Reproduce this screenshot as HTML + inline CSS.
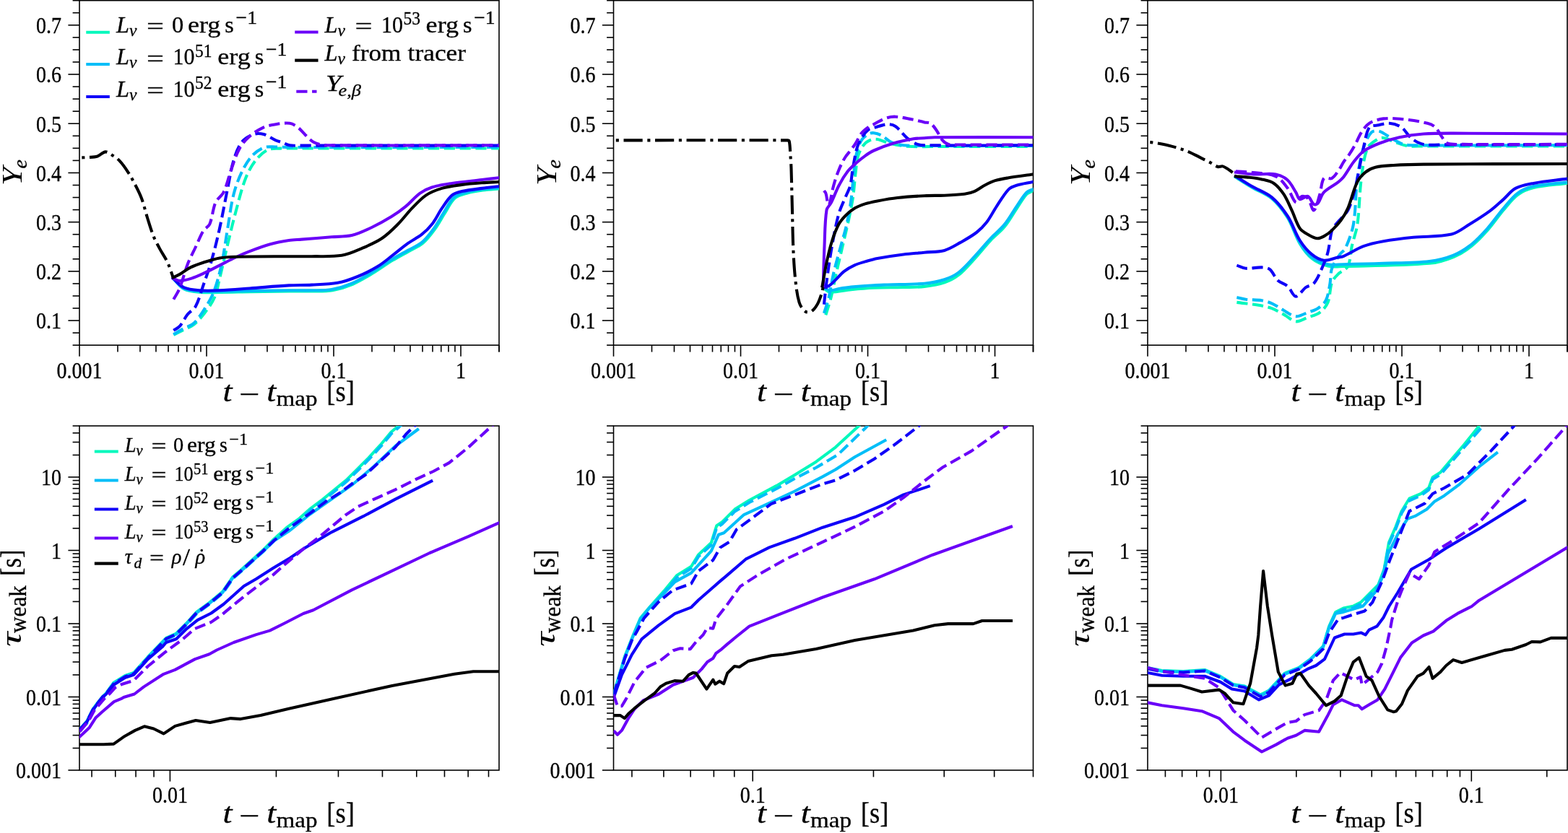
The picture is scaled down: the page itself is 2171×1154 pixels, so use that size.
<!DOCTYPE html>
<html><head><meta charset="utf-8"><style>
html,body{margin:0;padding:0;background:#fff;}
svg{display:block;}
text{font-family:"Liberation Serif", "DejaVu Serif", serif;fill:#000;stroke:#000;stroke-width:0.3px;}
</style></head><body>
<svg width="2171" height="1154" viewBox="0 0 2171 1154">
<rect width="2171" height="1154" fill="#fff"/>
<rect x="110.00" y="0.69" width="581.00" height="477.51" fill="none" stroke="#000" stroke-width="1.6"/>
<line x1="100.60" y1="478.20" x2="110.00" y2="478.20" stroke="#000" stroke-width="1.6"/>
<line x1="100.60" y1="461.15" x2="110.00" y2="461.15" stroke="#000" stroke-width="1.6"/>
<line x1="94.40" y1="444.09" x2="110.00" y2="444.09" stroke="#000" stroke-width="1.6"/>
<text transform="translate(85.00,455.49) scale(1.02,1.13)" font-size="27.5" text-anchor="end" >0.1</text>
<line x1="100.60" y1="427.04" x2="110.00" y2="427.04" stroke="#000" stroke-width="1.6"/>
<line x1="100.60" y1="409.98" x2="110.00" y2="409.98" stroke="#000" stroke-width="1.6"/>
<line x1="100.60" y1="392.93" x2="110.00" y2="392.93" stroke="#000" stroke-width="1.6"/>
<line x1="94.40" y1="375.88" x2="110.00" y2="375.88" stroke="#000" stroke-width="1.6"/>
<text transform="translate(85.00,387.28) scale(1.02,1.13)" font-size="27.5" text-anchor="end" >0.2</text>
<line x1="100.60" y1="358.82" x2="110.00" y2="358.82" stroke="#000" stroke-width="1.6"/>
<line x1="100.60" y1="341.77" x2="110.00" y2="341.77" stroke="#000" stroke-width="1.6"/>
<line x1="100.60" y1="324.71" x2="110.00" y2="324.71" stroke="#000" stroke-width="1.6"/>
<line x1="94.40" y1="307.66" x2="110.00" y2="307.66" stroke="#000" stroke-width="1.6"/>
<text transform="translate(85.00,319.06) scale(1.02,1.13)" font-size="27.5" text-anchor="end" >0.3</text>
<line x1="100.60" y1="290.61" x2="110.00" y2="290.61" stroke="#000" stroke-width="1.6"/>
<line x1="100.60" y1="273.55" x2="110.00" y2="273.55" stroke="#000" stroke-width="1.6"/>
<line x1="100.60" y1="256.50" x2="110.00" y2="256.50" stroke="#000" stroke-width="1.6"/>
<line x1="94.40" y1="239.44" x2="110.00" y2="239.44" stroke="#000" stroke-width="1.6"/>
<text transform="translate(85.00,250.84) scale(1.02,1.13)" font-size="27.5" text-anchor="end" >0.4</text>
<line x1="100.60" y1="222.39" x2="110.00" y2="222.39" stroke="#000" stroke-width="1.6"/>
<line x1="100.60" y1="205.34" x2="110.00" y2="205.34" stroke="#000" stroke-width="1.6"/>
<line x1="100.60" y1="188.28" x2="110.00" y2="188.28" stroke="#000" stroke-width="1.6"/>
<line x1="94.40" y1="171.23" x2="110.00" y2="171.23" stroke="#000" stroke-width="1.6"/>
<text transform="translate(85.00,182.63) scale(1.02,1.13)" font-size="27.5" text-anchor="end" >0.5</text>
<line x1="100.60" y1="154.18" x2="110.00" y2="154.18" stroke="#000" stroke-width="1.6"/>
<line x1="100.60" y1="137.12" x2="110.00" y2="137.12" stroke="#000" stroke-width="1.6"/>
<line x1="100.60" y1="120.07" x2="110.00" y2="120.07" stroke="#000" stroke-width="1.6"/>
<line x1="94.40" y1="103.01" x2="110.00" y2="103.01" stroke="#000" stroke-width="1.6"/>
<text transform="translate(85.00,114.41) scale(1.02,1.13)" font-size="27.5" text-anchor="end" >0.6</text>
<line x1="100.60" y1="85.96" x2="110.00" y2="85.96" stroke="#000" stroke-width="1.6"/>
<line x1="100.60" y1="68.91" x2="110.00" y2="68.91" stroke="#000" stroke-width="1.6"/>
<line x1="100.60" y1="51.85" x2="110.00" y2="51.85" stroke="#000" stroke-width="1.6"/>
<line x1="94.40" y1="34.80" x2="110.00" y2="34.80" stroke="#000" stroke-width="1.6"/>
<text transform="translate(85.00,46.20) scale(1.02,1.13)" font-size="27.5" text-anchor="end" >0.7</text>
<line x1="100.60" y1="17.74" x2="110.00" y2="17.74" stroke="#000" stroke-width="1.6"/>
<line x1="100.60" y1="0.69" x2="110.00" y2="0.69" stroke="#000" stroke-width="1.6"/>
<line x1="110.00" y1="478.20" x2="110.00" y2="493.80" stroke="#000" stroke-width="1.6"/>
<text transform="translate(110.00,523.50) scale(1.02,1.13)" font-size="27.5" text-anchor="middle" >0.001</text>
<line x1="162.98" y1="478.20" x2="162.98" y2="487.60" stroke="#000" stroke-width="1.6"/>
<line x1="193.98" y1="478.20" x2="193.98" y2="487.60" stroke="#000" stroke-width="1.6"/>
<line x1="215.97" y1="478.20" x2="215.97" y2="487.60" stroke="#000" stroke-width="1.6"/>
<line x1="233.02" y1="478.20" x2="233.02" y2="487.60" stroke="#000" stroke-width="1.6"/>
<line x1="246.96" y1="478.20" x2="246.96" y2="487.60" stroke="#000" stroke-width="1.6"/>
<line x1="258.74" y1="478.20" x2="258.74" y2="487.60" stroke="#000" stroke-width="1.6"/>
<line x1="268.95" y1="478.20" x2="268.95" y2="487.60" stroke="#000" stroke-width="1.6"/>
<line x1="277.95" y1="478.20" x2="277.95" y2="487.60" stroke="#000" stroke-width="1.6"/>
<line x1="286.01" y1="478.20" x2="286.01" y2="493.80" stroke="#000" stroke-width="1.6"/>
<text transform="translate(286.01,523.50) scale(1.02,1.13)" font-size="27.5" text-anchor="middle" >0.01</text>
<line x1="338.99" y1="478.20" x2="338.99" y2="487.60" stroke="#000" stroke-width="1.6"/>
<line x1="369.98" y1="478.20" x2="369.98" y2="487.60" stroke="#000" stroke-width="1.6"/>
<line x1="391.97" y1="478.20" x2="391.97" y2="487.60" stroke="#000" stroke-width="1.6"/>
<line x1="409.03" y1="478.20" x2="409.03" y2="487.60" stroke="#000" stroke-width="1.6"/>
<line x1="422.96" y1="478.20" x2="422.96" y2="487.60" stroke="#000" stroke-width="1.6"/>
<line x1="434.75" y1="478.20" x2="434.75" y2="487.60" stroke="#000" stroke-width="1.6"/>
<line x1="444.95" y1="478.20" x2="444.95" y2="487.60" stroke="#000" stroke-width="1.6"/>
<line x1="453.96" y1="478.20" x2="453.96" y2="487.60" stroke="#000" stroke-width="1.6"/>
<line x1="462.01" y1="478.20" x2="462.01" y2="493.80" stroke="#000" stroke-width="1.6"/>
<text transform="translate(462.01,523.50) scale(1.02,1.13)" font-size="27.5" text-anchor="middle" >0.1</text>
<line x1="514.99" y1="478.20" x2="514.99" y2="487.60" stroke="#000" stroke-width="1.6"/>
<line x1="545.99" y1="478.20" x2="545.99" y2="487.60" stroke="#000" stroke-width="1.6"/>
<line x1="567.98" y1="478.20" x2="567.98" y2="487.60" stroke="#000" stroke-width="1.6"/>
<line x1="585.03" y1="478.20" x2="585.03" y2="487.60" stroke="#000" stroke-width="1.6"/>
<line x1="598.97" y1="478.20" x2="598.97" y2="487.60" stroke="#000" stroke-width="1.6"/>
<line x1="610.75" y1="478.20" x2="610.75" y2="487.60" stroke="#000" stroke-width="1.6"/>
<line x1="620.96" y1="478.20" x2="620.96" y2="487.60" stroke="#000" stroke-width="1.6"/>
<line x1="629.96" y1="478.20" x2="629.96" y2="487.60" stroke="#000" stroke-width="1.6"/>
<line x1="638.02" y1="478.20" x2="638.02" y2="493.80" stroke="#000" stroke-width="1.6"/>
<text transform="translate(638.02,523.50) scale(1.02,1.13)" font-size="27.5" text-anchor="middle" >1</text>
<line x1="691.00" y1="478.20" x2="691.00" y2="487.60" stroke="#000" stroke-width="1.6"/>
<line x1="691.00" y1="478.20" x2="691.00" y2="487.60" stroke="#000" stroke-width="1.6"/>
<rect x="849.50" y="0.69" width="581.00" height="477.51" fill="none" stroke="#000" stroke-width="1.6"/>
<line x1="840.10" y1="478.20" x2="849.50" y2="478.20" stroke="#000" stroke-width="1.6"/>
<line x1="840.10" y1="461.15" x2="849.50" y2="461.15" stroke="#000" stroke-width="1.6"/>
<line x1="833.90" y1="444.09" x2="849.50" y2="444.09" stroke="#000" stroke-width="1.6"/>
<text transform="translate(824.50,455.49) scale(1.02,1.13)" font-size="27.5" text-anchor="end" >0.1</text>
<line x1="840.10" y1="427.04" x2="849.50" y2="427.04" stroke="#000" stroke-width="1.6"/>
<line x1="840.10" y1="409.98" x2="849.50" y2="409.98" stroke="#000" stroke-width="1.6"/>
<line x1="840.10" y1="392.93" x2="849.50" y2="392.93" stroke="#000" stroke-width="1.6"/>
<line x1="833.90" y1="375.88" x2="849.50" y2="375.88" stroke="#000" stroke-width="1.6"/>
<text transform="translate(824.50,387.28) scale(1.02,1.13)" font-size="27.5" text-anchor="end" >0.2</text>
<line x1="840.10" y1="358.82" x2="849.50" y2="358.82" stroke="#000" stroke-width="1.6"/>
<line x1="840.10" y1="341.77" x2="849.50" y2="341.77" stroke="#000" stroke-width="1.6"/>
<line x1="840.10" y1="324.71" x2="849.50" y2="324.71" stroke="#000" stroke-width="1.6"/>
<line x1="833.90" y1="307.66" x2="849.50" y2="307.66" stroke="#000" stroke-width="1.6"/>
<text transform="translate(824.50,319.06) scale(1.02,1.13)" font-size="27.5" text-anchor="end" >0.3</text>
<line x1="840.10" y1="290.61" x2="849.50" y2="290.61" stroke="#000" stroke-width="1.6"/>
<line x1="840.10" y1="273.55" x2="849.50" y2="273.55" stroke="#000" stroke-width="1.6"/>
<line x1="840.10" y1="256.50" x2="849.50" y2="256.50" stroke="#000" stroke-width="1.6"/>
<line x1="833.90" y1="239.44" x2="849.50" y2="239.44" stroke="#000" stroke-width="1.6"/>
<text transform="translate(824.50,250.84) scale(1.02,1.13)" font-size="27.5" text-anchor="end" >0.4</text>
<line x1="840.10" y1="222.39" x2="849.50" y2="222.39" stroke="#000" stroke-width="1.6"/>
<line x1="840.10" y1="205.34" x2="849.50" y2="205.34" stroke="#000" stroke-width="1.6"/>
<line x1="840.10" y1="188.28" x2="849.50" y2="188.28" stroke="#000" stroke-width="1.6"/>
<line x1="833.90" y1="171.23" x2="849.50" y2="171.23" stroke="#000" stroke-width="1.6"/>
<text transform="translate(824.50,182.63) scale(1.02,1.13)" font-size="27.5" text-anchor="end" >0.5</text>
<line x1="840.10" y1="154.18" x2="849.50" y2="154.18" stroke="#000" stroke-width="1.6"/>
<line x1="840.10" y1="137.12" x2="849.50" y2="137.12" stroke="#000" stroke-width="1.6"/>
<line x1="840.10" y1="120.07" x2="849.50" y2="120.07" stroke="#000" stroke-width="1.6"/>
<line x1="833.90" y1="103.01" x2="849.50" y2="103.01" stroke="#000" stroke-width="1.6"/>
<text transform="translate(824.50,114.41) scale(1.02,1.13)" font-size="27.5" text-anchor="end" >0.6</text>
<line x1="840.10" y1="85.96" x2="849.50" y2="85.96" stroke="#000" stroke-width="1.6"/>
<line x1="840.10" y1="68.91" x2="849.50" y2="68.91" stroke="#000" stroke-width="1.6"/>
<line x1="840.10" y1="51.85" x2="849.50" y2="51.85" stroke="#000" stroke-width="1.6"/>
<line x1="833.90" y1="34.80" x2="849.50" y2="34.80" stroke="#000" stroke-width="1.6"/>
<text transform="translate(824.50,46.20) scale(1.02,1.13)" font-size="27.5" text-anchor="end" >0.7</text>
<line x1="840.10" y1="17.74" x2="849.50" y2="17.74" stroke="#000" stroke-width="1.6"/>
<line x1="840.10" y1="0.69" x2="849.50" y2="0.69" stroke="#000" stroke-width="1.6"/>
<line x1="849.50" y1="478.20" x2="849.50" y2="493.80" stroke="#000" stroke-width="1.6"/>
<text transform="translate(849.50,523.50) scale(1.02,1.13)" font-size="27.5" text-anchor="middle" >0.001</text>
<line x1="902.48" y1="478.20" x2="902.48" y2="487.60" stroke="#000" stroke-width="1.6"/>
<line x1="933.48" y1="478.20" x2="933.48" y2="487.60" stroke="#000" stroke-width="1.6"/>
<line x1="955.47" y1="478.20" x2="955.47" y2="487.60" stroke="#000" stroke-width="1.6"/>
<line x1="972.52" y1="478.20" x2="972.52" y2="487.60" stroke="#000" stroke-width="1.6"/>
<line x1="986.46" y1="478.20" x2="986.46" y2="487.60" stroke="#000" stroke-width="1.6"/>
<line x1="998.24" y1="478.20" x2="998.24" y2="487.60" stroke="#000" stroke-width="1.6"/>
<line x1="1008.45" y1="478.20" x2="1008.45" y2="487.60" stroke="#000" stroke-width="1.6"/>
<line x1="1017.45" y1="478.20" x2="1017.45" y2="487.60" stroke="#000" stroke-width="1.6"/>
<line x1="1025.51" y1="478.20" x2="1025.51" y2="493.80" stroke="#000" stroke-width="1.6"/>
<text transform="translate(1025.51,523.50) scale(1.02,1.13)" font-size="27.5" text-anchor="middle" >0.01</text>
<line x1="1078.49" y1="478.20" x2="1078.49" y2="487.60" stroke="#000" stroke-width="1.6"/>
<line x1="1109.48" y1="478.20" x2="1109.48" y2="487.60" stroke="#000" stroke-width="1.6"/>
<line x1="1131.47" y1="478.20" x2="1131.47" y2="487.60" stroke="#000" stroke-width="1.6"/>
<line x1="1148.53" y1="478.20" x2="1148.53" y2="487.60" stroke="#000" stroke-width="1.6"/>
<line x1="1162.46" y1="478.20" x2="1162.46" y2="487.60" stroke="#000" stroke-width="1.6"/>
<line x1="1174.25" y1="478.20" x2="1174.25" y2="487.60" stroke="#000" stroke-width="1.6"/>
<line x1="1184.45" y1="478.20" x2="1184.45" y2="487.60" stroke="#000" stroke-width="1.6"/>
<line x1="1193.46" y1="478.20" x2="1193.46" y2="487.60" stroke="#000" stroke-width="1.6"/>
<line x1="1201.51" y1="478.20" x2="1201.51" y2="493.80" stroke="#000" stroke-width="1.6"/>
<text transform="translate(1201.51,523.50) scale(1.02,1.13)" font-size="27.5" text-anchor="middle" >0.1</text>
<line x1="1254.49" y1="478.20" x2="1254.49" y2="487.60" stroke="#000" stroke-width="1.6"/>
<line x1="1285.49" y1="478.20" x2="1285.49" y2="487.60" stroke="#000" stroke-width="1.6"/>
<line x1="1307.48" y1="478.20" x2="1307.48" y2="487.60" stroke="#000" stroke-width="1.6"/>
<line x1="1324.53" y1="478.20" x2="1324.53" y2="487.60" stroke="#000" stroke-width="1.6"/>
<line x1="1338.47" y1="478.20" x2="1338.47" y2="487.60" stroke="#000" stroke-width="1.6"/>
<line x1="1350.25" y1="478.20" x2="1350.25" y2="487.60" stroke="#000" stroke-width="1.6"/>
<line x1="1360.46" y1="478.20" x2="1360.46" y2="487.60" stroke="#000" stroke-width="1.6"/>
<line x1="1369.46" y1="478.20" x2="1369.46" y2="487.60" stroke="#000" stroke-width="1.6"/>
<line x1="1377.52" y1="478.20" x2="1377.52" y2="493.80" stroke="#000" stroke-width="1.6"/>
<text transform="translate(1377.52,523.50) scale(1.02,1.13)" font-size="27.5" text-anchor="middle" >1</text>
<line x1="1430.50" y1="478.20" x2="1430.50" y2="487.60" stroke="#000" stroke-width="1.6"/>
<line x1="1430.50" y1="478.20" x2="1430.50" y2="487.60" stroke="#000" stroke-width="1.6"/>
<rect x="1589.00" y="0.69" width="581.00" height="477.51" fill="none" stroke="#000" stroke-width="1.6"/>
<line x1="1579.60" y1="478.20" x2="1589.00" y2="478.20" stroke="#000" stroke-width="1.6"/>
<line x1="1579.60" y1="461.15" x2="1589.00" y2="461.15" stroke="#000" stroke-width="1.6"/>
<line x1="1573.40" y1="444.09" x2="1589.00" y2="444.09" stroke="#000" stroke-width="1.6"/>
<text transform="translate(1564.00,455.49) scale(1.02,1.13)" font-size="27.5" text-anchor="end" >0.1</text>
<line x1="1579.60" y1="427.04" x2="1589.00" y2="427.04" stroke="#000" stroke-width="1.6"/>
<line x1="1579.60" y1="409.98" x2="1589.00" y2="409.98" stroke="#000" stroke-width="1.6"/>
<line x1="1579.60" y1="392.93" x2="1589.00" y2="392.93" stroke="#000" stroke-width="1.6"/>
<line x1="1573.40" y1="375.88" x2="1589.00" y2="375.88" stroke="#000" stroke-width="1.6"/>
<text transform="translate(1564.00,387.28) scale(1.02,1.13)" font-size="27.5" text-anchor="end" >0.2</text>
<line x1="1579.60" y1="358.82" x2="1589.00" y2="358.82" stroke="#000" stroke-width="1.6"/>
<line x1="1579.60" y1="341.77" x2="1589.00" y2="341.77" stroke="#000" stroke-width="1.6"/>
<line x1="1579.60" y1="324.71" x2="1589.00" y2="324.71" stroke="#000" stroke-width="1.6"/>
<line x1="1573.40" y1="307.66" x2="1589.00" y2="307.66" stroke="#000" stroke-width="1.6"/>
<text transform="translate(1564.00,319.06) scale(1.02,1.13)" font-size="27.5" text-anchor="end" >0.3</text>
<line x1="1579.60" y1="290.61" x2="1589.00" y2="290.61" stroke="#000" stroke-width="1.6"/>
<line x1="1579.60" y1="273.55" x2="1589.00" y2="273.55" stroke="#000" stroke-width="1.6"/>
<line x1="1579.60" y1="256.50" x2="1589.00" y2="256.50" stroke="#000" stroke-width="1.6"/>
<line x1="1573.40" y1="239.44" x2="1589.00" y2="239.44" stroke="#000" stroke-width="1.6"/>
<text transform="translate(1564.00,250.84) scale(1.02,1.13)" font-size="27.5" text-anchor="end" >0.4</text>
<line x1="1579.60" y1="222.39" x2="1589.00" y2="222.39" stroke="#000" stroke-width="1.6"/>
<line x1="1579.60" y1="205.34" x2="1589.00" y2="205.34" stroke="#000" stroke-width="1.6"/>
<line x1="1579.60" y1="188.28" x2="1589.00" y2="188.28" stroke="#000" stroke-width="1.6"/>
<line x1="1573.40" y1="171.23" x2="1589.00" y2="171.23" stroke="#000" stroke-width="1.6"/>
<text transform="translate(1564.00,182.63) scale(1.02,1.13)" font-size="27.5" text-anchor="end" >0.5</text>
<line x1="1579.60" y1="154.18" x2="1589.00" y2="154.18" stroke="#000" stroke-width="1.6"/>
<line x1="1579.60" y1="137.12" x2="1589.00" y2="137.12" stroke="#000" stroke-width="1.6"/>
<line x1="1579.60" y1="120.07" x2="1589.00" y2="120.07" stroke="#000" stroke-width="1.6"/>
<line x1="1573.40" y1="103.01" x2="1589.00" y2="103.01" stroke="#000" stroke-width="1.6"/>
<text transform="translate(1564.00,114.41) scale(1.02,1.13)" font-size="27.5" text-anchor="end" >0.6</text>
<line x1="1579.60" y1="85.96" x2="1589.00" y2="85.96" stroke="#000" stroke-width="1.6"/>
<line x1="1579.60" y1="68.91" x2="1589.00" y2="68.91" stroke="#000" stroke-width="1.6"/>
<line x1="1579.60" y1="51.85" x2="1589.00" y2="51.85" stroke="#000" stroke-width="1.6"/>
<line x1="1573.40" y1="34.80" x2="1589.00" y2="34.80" stroke="#000" stroke-width="1.6"/>
<text transform="translate(1564.00,46.20) scale(1.02,1.13)" font-size="27.5" text-anchor="end" >0.7</text>
<line x1="1579.60" y1="17.74" x2="1589.00" y2="17.74" stroke="#000" stroke-width="1.6"/>
<line x1="1579.60" y1="0.69" x2="1589.00" y2="0.69" stroke="#000" stroke-width="1.6"/>
<line x1="1589.00" y1="478.20" x2="1589.00" y2="493.80" stroke="#000" stroke-width="1.6"/>
<text transform="translate(1589.00,523.50) scale(1.02,1.13)" font-size="27.5" text-anchor="middle" >0.001</text>
<line x1="1641.98" y1="478.20" x2="1641.98" y2="487.60" stroke="#000" stroke-width="1.6"/>
<line x1="1672.98" y1="478.20" x2="1672.98" y2="487.60" stroke="#000" stroke-width="1.6"/>
<line x1="1694.97" y1="478.20" x2="1694.97" y2="487.60" stroke="#000" stroke-width="1.6"/>
<line x1="1712.02" y1="478.20" x2="1712.02" y2="487.60" stroke="#000" stroke-width="1.6"/>
<line x1="1725.96" y1="478.20" x2="1725.96" y2="487.60" stroke="#000" stroke-width="1.6"/>
<line x1="1737.74" y1="478.20" x2="1737.74" y2="487.60" stroke="#000" stroke-width="1.6"/>
<line x1="1747.95" y1="478.20" x2="1747.95" y2="487.60" stroke="#000" stroke-width="1.6"/>
<line x1="1756.95" y1="478.20" x2="1756.95" y2="487.60" stroke="#000" stroke-width="1.6"/>
<line x1="1765.01" y1="478.20" x2="1765.01" y2="493.80" stroke="#000" stroke-width="1.6"/>
<text transform="translate(1765.01,523.50) scale(1.02,1.13)" font-size="27.5" text-anchor="middle" >0.01</text>
<line x1="1817.99" y1="478.20" x2="1817.99" y2="487.60" stroke="#000" stroke-width="1.6"/>
<line x1="1848.98" y1="478.20" x2="1848.98" y2="487.60" stroke="#000" stroke-width="1.6"/>
<line x1="1870.97" y1="478.20" x2="1870.97" y2="487.60" stroke="#000" stroke-width="1.6"/>
<line x1="1888.03" y1="478.20" x2="1888.03" y2="487.60" stroke="#000" stroke-width="1.6"/>
<line x1="1901.96" y1="478.20" x2="1901.96" y2="487.60" stroke="#000" stroke-width="1.6"/>
<line x1="1913.75" y1="478.20" x2="1913.75" y2="487.60" stroke="#000" stroke-width="1.6"/>
<line x1="1923.95" y1="478.20" x2="1923.95" y2="487.60" stroke="#000" stroke-width="1.6"/>
<line x1="1932.96" y1="478.20" x2="1932.96" y2="487.60" stroke="#000" stroke-width="1.6"/>
<line x1="1941.01" y1="478.20" x2="1941.01" y2="493.80" stroke="#000" stroke-width="1.6"/>
<text transform="translate(1941.01,523.50) scale(1.02,1.13)" font-size="27.5" text-anchor="middle" >0.1</text>
<line x1="1993.99" y1="478.20" x2="1993.99" y2="487.60" stroke="#000" stroke-width="1.6"/>
<line x1="2024.99" y1="478.20" x2="2024.99" y2="487.60" stroke="#000" stroke-width="1.6"/>
<line x1="2046.98" y1="478.20" x2="2046.98" y2="487.60" stroke="#000" stroke-width="1.6"/>
<line x1="2064.03" y1="478.20" x2="2064.03" y2="487.60" stroke="#000" stroke-width="1.6"/>
<line x1="2077.97" y1="478.20" x2="2077.97" y2="487.60" stroke="#000" stroke-width="1.6"/>
<line x1="2089.75" y1="478.20" x2="2089.75" y2="487.60" stroke="#000" stroke-width="1.6"/>
<line x1="2099.96" y1="478.20" x2="2099.96" y2="487.60" stroke="#000" stroke-width="1.6"/>
<line x1="2108.96" y1="478.20" x2="2108.96" y2="487.60" stroke="#000" stroke-width="1.6"/>
<line x1="2117.02" y1="478.20" x2="2117.02" y2="493.80" stroke="#000" stroke-width="1.6"/>
<text transform="translate(2117.02,523.50) scale(1.02,1.13)" font-size="27.5" text-anchor="middle" >1</text>
<line x1="2170.00" y1="478.20" x2="2170.00" y2="487.60" stroke="#000" stroke-width="1.6"/>
<line x1="2170.00" y1="478.20" x2="2170.00" y2="487.60" stroke="#000" stroke-width="1.6"/>
<rect x="110.00" y="590.00" width="581.00" height="477.00" fill="none" stroke="#000" stroke-width="1.6"/>
<line x1="94.40" y1="1067.00" x2="110.00" y2="1067.00" stroke="#000" stroke-width="1.6"/>
<text transform="translate(85.00,1078.40) scale(1.02,1.13)" font-size="27.5" text-anchor="end" >0.001</text>
<line x1="100.60" y1="1036.44" x2="110.00" y2="1036.44" stroke="#000" stroke-width="1.6"/>
<line x1="100.60" y1="1018.57" x2="110.00" y2="1018.57" stroke="#000" stroke-width="1.6"/>
<line x1="100.60" y1="1005.88" x2="110.00" y2="1005.88" stroke="#000" stroke-width="1.6"/>
<line x1="100.60" y1="996.05" x2="110.00" y2="996.05" stroke="#000" stroke-width="1.6"/>
<line x1="100.60" y1="988.01" x2="110.00" y2="988.01" stroke="#000" stroke-width="1.6"/>
<line x1="100.60" y1="981.21" x2="110.00" y2="981.21" stroke="#000" stroke-width="1.6"/>
<line x1="100.60" y1="975.33" x2="110.00" y2="975.33" stroke="#000" stroke-width="1.6"/>
<line x1="100.60" y1="970.13" x2="110.00" y2="970.13" stroke="#000" stroke-width="1.6"/>
<line x1="94.40" y1="965.49" x2="110.00" y2="965.49" stroke="#000" stroke-width="1.6"/>
<text transform="translate(85.00,976.89) scale(1.02,1.13)" font-size="27.5" text-anchor="end" >0.01</text>
<line x1="100.60" y1="934.93" x2="110.00" y2="934.93" stroke="#000" stroke-width="1.6"/>
<line x1="100.60" y1="917.06" x2="110.00" y2="917.06" stroke="#000" stroke-width="1.6"/>
<line x1="100.60" y1="904.37" x2="110.00" y2="904.37" stroke="#000" stroke-width="1.6"/>
<line x1="100.60" y1="894.53" x2="110.00" y2="894.53" stroke="#000" stroke-width="1.6"/>
<line x1="100.60" y1="886.50" x2="110.00" y2="886.50" stroke="#000" stroke-width="1.6"/>
<line x1="100.60" y1="879.70" x2="110.00" y2="879.70" stroke="#000" stroke-width="1.6"/>
<line x1="100.60" y1="873.81" x2="110.00" y2="873.81" stroke="#000" stroke-width="1.6"/>
<line x1="100.60" y1="868.62" x2="110.00" y2="868.62" stroke="#000" stroke-width="1.6"/>
<line x1="94.40" y1="863.98" x2="110.00" y2="863.98" stroke="#000" stroke-width="1.6"/>
<text transform="translate(85.00,875.38) scale(1.02,1.13)" font-size="27.5" text-anchor="end" >0.1</text>
<line x1="100.60" y1="833.42" x2="110.00" y2="833.42" stroke="#000" stroke-width="1.6"/>
<line x1="100.60" y1="815.54" x2="110.00" y2="815.54" stroke="#000" stroke-width="1.6"/>
<line x1="100.60" y1="802.86" x2="110.00" y2="802.86" stroke="#000" stroke-width="1.6"/>
<line x1="100.60" y1="793.02" x2="110.00" y2="793.02" stroke="#000" stroke-width="1.6"/>
<line x1="100.60" y1="784.99" x2="110.00" y2="784.99" stroke="#000" stroke-width="1.6"/>
<line x1="100.60" y1="778.19" x2="110.00" y2="778.19" stroke="#000" stroke-width="1.6"/>
<line x1="100.60" y1="772.30" x2="110.00" y2="772.30" stroke="#000" stroke-width="1.6"/>
<line x1="100.60" y1="767.11" x2="110.00" y2="767.11" stroke="#000" stroke-width="1.6"/>
<line x1="94.40" y1="762.47" x2="110.00" y2="762.47" stroke="#000" stroke-width="1.6"/>
<text transform="translate(85.00,773.87) scale(1.02,1.13)" font-size="27.5" text-anchor="end" >1</text>
<line x1="100.60" y1="731.91" x2="110.00" y2="731.91" stroke="#000" stroke-width="1.6"/>
<line x1="100.60" y1="714.03" x2="110.00" y2="714.03" stroke="#000" stroke-width="1.6"/>
<line x1="100.60" y1="701.35" x2="110.00" y2="701.35" stroke="#000" stroke-width="1.6"/>
<line x1="100.60" y1="691.51" x2="110.00" y2="691.51" stroke="#000" stroke-width="1.6"/>
<line x1="100.60" y1="683.47" x2="110.00" y2="683.47" stroke="#000" stroke-width="1.6"/>
<line x1="100.60" y1="676.68" x2="110.00" y2="676.68" stroke="#000" stroke-width="1.6"/>
<line x1="100.60" y1="670.79" x2="110.00" y2="670.79" stroke="#000" stroke-width="1.6"/>
<line x1="100.60" y1="665.60" x2="110.00" y2="665.60" stroke="#000" stroke-width="1.6"/>
<line x1="94.40" y1="660.95" x2="110.00" y2="660.95" stroke="#000" stroke-width="1.6"/>
<text transform="translate(85.00,672.35) scale(1.02,1.13)" font-size="27.5" text-anchor="end" >10</text>
<line x1="100.60" y1="630.40" x2="110.00" y2="630.40" stroke="#000" stroke-width="1.6"/>
<line x1="100.60" y1="612.52" x2="110.00" y2="612.52" stroke="#000" stroke-width="1.6"/>
<line x1="100.60" y1="599.84" x2="110.00" y2="599.84" stroke="#000" stroke-width="1.6"/>
<line x1="100.60" y1="590.00" x2="110.00" y2="590.00" stroke="#000" stroke-width="1.6"/>
<line x1="127.05" y1="1067.00" x2="127.05" y2="1076.40" stroke="#000" stroke-width="1.6"/>
<line x1="159.75" y1="1067.00" x2="159.75" y2="1076.40" stroke="#000" stroke-width="1.6"/>
<line x1="188.07" y1="1067.00" x2="188.07" y2="1076.40" stroke="#000" stroke-width="1.6"/>
<line x1="213.06" y1="1067.00" x2="213.06" y2="1076.40" stroke="#000" stroke-width="1.6"/>
<line x1="235.41" y1="1067.00" x2="235.41" y2="1082.60" stroke="#000" stroke-width="1.6"/>
<text transform="translate(235.41,1112.30) scale(1.02,1.13)" font-size="27.5" text-anchor="middle" >0.01</text>
<line x1="382.43" y1="1067.00" x2="382.43" y2="1076.40" stroke="#000" stroke-width="1.6"/>
<line x1="468.44" y1="1067.00" x2="468.44" y2="1076.40" stroke="#000" stroke-width="1.6"/>
<line x1="529.46" y1="1067.00" x2="529.46" y2="1076.40" stroke="#000" stroke-width="1.6"/>
<line x1="576.79" y1="1067.00" x2="576.79" y2="1076.40" stroke="#000" stroke-width="1.6"/>
<line x1="615.47" y1="1067.00" x2="615.47" y2="1076.40" stroke="#000" stroke-width="1.6"/>
<line x1="648.16" y1="1067.00" x2="648.16" y2="1076.40" stroke="#000" stroke-width="1.6"/>
<line x1="676.49" y1="1067.00" x2="676.49" y2="1076.40" stroke="#000" stroke-width="1.6"/>
<rect x="849.50" y="590.00" width="581.00" height="477.00" fill="none" stroke="#000" stroke-width="1.6"/>
<line x1="833.90" y1="1067.00" x2="849.50" y2="1067.00" stroke="#000" stroke-width="1.6"/>
<text transform="translate(824.50,1078.40) scale(1.02,1.13)" font-size="27.5" text-anchor="end" >0.001</text>
<line x1="840.10" y1="1036.44" x2="849.50" y2="1036.44" stroke="#000" stroke-width="1.6"/>
<line x1="840.10" y1="1018.57" x2="849.50" y2="1018.57" stroke="#000" stroke-width="1.6"/>
<line x1="840.10" y1="1005.88" x2="849.50" y2="1005.88" stroke="#000" stroke-width="1.6"/>
<line x1="840.10" y1="996.05" x2="849.50" y2="996.05" stroke="#000" stroke-width="1.6"/>
<line x1="840.10" y1="988.01" x2="849.50" y2="988.01" stroke="#000" stroke-width="1.6"/>
<line x1="840.10" y1="981.21" x2="849.50" y2="981.21" stroke="#000" stroke-width="1.6"/>
<line x1="840.10" y1="975.33" x2="849.50" y2="975.33" stroke="#000" stroke-width="1.6"/>
<line x1="840.10" y1="970.13" x2="849.50" y2="970.13" stroke="#000" stroke-width="1.6"/>
<line x1="833.90" y1="965.49" x2="849.50" y2="965.49" stroke="#000" stroke-width="1.6"/>
<text transform="translate(824.50,976.89) scale(1.02,1.13)" font-size="27.5" text-anchor="end" >0.01</text>
<line x1="840.10" y1="934.93" x2="849.50" y2="934.93" stroke="#000" stroke-width="1.6"/>
<line x1="840.10" y1="917.06" x2="849.50" y2="917.06" stroke="#000" stroke-width="1.6"/>
<line x1="840.10" y1="904.37" x2="849.50" y2="904.37" stroke="#000" stroke-width="1.6"/>
<line x1="840.10" y1="894.53" x2="849.50" y2="894.53" stroke="#000" stroke-width="1.6"/>
<line x1="840.10" y1="886.50" x2="849.50" y2="886.50" stroke="#000" stroke-width="1.6"/>
<line x1="840.10" y1="879.70" x2="849.50" y2="879.70" stroke="#000" stroke-width="1.6"/>
<line x1="840.10" y1="873.81" x2="849.50" y2="873.81" stroke="#000" stroke-width="1.6"/>
<line x1="840.10" y1="868.62" x2="849.50" y2="868.62" stroke="#000" stroke-width="1.6"/>
<line x1="833.90" y1="863.98" x2="849.50" y2="863.98" stroke="#000" stroke-width="1.6"/>
<text transform="translate(824.50,875.38) scale(1.02,1.13)" font-size="27.5" text-anchor="end" >0.1</text>
<line x1="840.10" y1="833.42" x2="849.50" y2="833.42" stroke="#000" stroke-width="1.6"/>
<line x1="840.10" y1="815.54" x2="849.50" y2="815.54" stroke="#000" stroke-width="1.6"/>
<line x1="840.10" y1="802.86" x2="849.50" y2="802.86" stroke="#000" stroke-width="1.6"/>
<line x1="840.10" y1="793.02" x2="849.50" y2="793.02" stroke="#000" stroke-width="1.6"/>
<line x1="840.10" y1="784.99" x2="849.50" y2="784.99" stroke="#000" stroke-width="1.6"/>
<line x1="840.10" y1="778.19" x2="849.50" y2="778.19" stroke="#000" stroke-width="1.6"/>
<line x1="840.10" y1="772.30" x2="849.50" y2="772.30" stroke="#000" stroke-width="1.6"/>
<line x1="840.10" y1="767.11" x2="849.50" y2="767.11" stroke="#000" stroke-width="1.6"/>
<line x1="833.90" y1="762.47" x2="849.50" y2="762.47" stroke="#000" stroke-width="1.6"/>
<text transform="translate(824.50,773.87) scale(1.02,1.13)" font-size="27.5" text-anchor="end" >1</text>
<line x1="840.10" y1="731.91" x2="849.50" y2="731.91" stroke="#000" stroke-width="1.6"/>
<line x1="840.10" y1="714.03" x2="849.50" y2="714.03" stroke="#000" stroke-width="1.6"/>
<line x1="840.10" y1="701.35" x2="849.50" y2="701.35" stroke="#000" stroke-width="1.6"/>
<line x1="840.10" y1="691.51" x2="849.50" y2="691.51" stroke="#000" stroke-width="1.6"/>
<line x1="840.10" y1="683.47" x2="849.50" y2="683.47" stroke="#000" stroke-width="1.6"/>
<line x1="840.10" y1="676.68" x2="849.50" y2="676.68" stroke="#000" stroke-width="1.6"/>
<line x1="840.10" y1="670.79" x2="849.50" y2="670.79" stroke="#000" stroke-width="1.6"/>
<line x1="840.10" y1="665.60" x2="849.50" y2="665.60" stroke="#000" stroke-width="1.6"/>
<line x1="833.90" y1="660.95" x2="849.50" y2="660.95" stroke="#000" stroke-width="1.6"/>
<text transform="translate(824.50,672.35) scale(1.02,1.13)" font-size="27.5" text-anchor="end" >10</text>
<line x1="840.10" y1="630.40" x2="849.50" y2="630.40" stroke="#000" stroke-width="1.6"/>
<line x1="840.10" y1="612.52" x2="849.50" y2="612.52" stroke="#000" stroke-width="1.6"/>
<line x1="840.10" y1="599.84" x2="849.50" y2="599.84" stroke="#000" stroke-width="1.6"/>
<line x1="840.10" y1="590.00" x2="849.50" y2="590.00" stroke="#000" stroke-width="1.6"/>
<line x1="874.92" y1="1067.00" x2="874.92" y2="1076.40" stroke="#000" stroke-width="1.6"/>
<line x1="918.91" y1="1067.00" x2="918.91" y2="1076.40" stroke="#000" stroke-width="1.6"/>
<line x1="956.11" y1="1067.00" x2="956.11" y2="1076.40" stroke="#000" stroke-width="1.6"/>
<line x1="988.33" y1="1067.00" x2="988.33" y2="1076.40" stroke="#000" stroke-width="1.6"/>
<line x1="1016.75" y1="1067.00" x2="1016.75" y2="1076.40" stroke="#000" stroke-width="1.6"/>
<line x1="1042.17" y1="1067.00" x2="1042.17" y2="1082.60" stroke="#000" stroke-width="1.6"/>
<text transform="translate(1042.17,1112.30) scale(1.02,1.13)" font-size="27.5" text-anchor="middle" >0.1</text>
<line x1="1209.41" y1="1067.00" x2="1209.41" y2="1076.40" stroke="#000" stroke-width="1.6"/>
<line x1="1307.25" y1="1067.00" x2="1307.25" y2="1076.40" stroke="#000" stroke-width="1.6"/>
<line x1="1376.66" y1="1067.00" x2="1376.66" y2="1076.40" stroke="#000" stroke-width="1.6"/>
<line x1="1430.50" y1="1067.00" x2="1430.50" y2="1076.40" stroke="#000" stroke-width="1.6"/>
<rect x="1589.00" y="590.00" width="581.00" height="477.00" fill="none" stroke="#000" stroke-width="1.6"/>
<line x1="1573.40" y1="1067.00" x2="1589.00" y2="1067.00" stroke="#000" stroke-width="1.6"/>
<text transform="translate(1564.00,1078.40) scale(1.02,1.13)" font-size="27.5" text-anchor="end" >0.001</text>
<line x1="1579.60" y1="1036.44" x2="1589.00" y2="1036.44" stroke="#000" stroke-width="1.6"/>
<line x1="1579.60" y1="1018.57" x2="1589.00" y2="1018.57" stroke="#000" stroke-width="1.6"/>
<line x1="1579.60" y1="1005.88" x2="1589.00" y2="1005.88" stroke="#000" stroke-width="1.6"/>
<line x1="1579.60" y1="996.05" x2="1589.00" y2="996.05" stroke="#000" stroke-width="1.6"/>
<line x1="1579.60" y1="988.01" x2="1589.00" y2="988.01" stroke="#000" stroke-width="1.6"/>
<line x1="1579.60" y1="981.21" x2="1589.00" y2="981.21" stroke="#000" stroke-width="1.6"/>
<line x1="1579.60" y1="975.33" x2="1589.00" y2="975.33" stroke="#000" stroke-width="1.6"/>
<line x1="1579.60" y1="970.13" x2="1589.00" y2="970.13" stroke="#000" stroke-width="1.6"/>
<line x1="1573.40" y1="965.49" x2="1589.00" y2="965.49" stroke="#000" stroke-width="1.6"/>
<text transform="translate(1564.00,976.89) scale(1.02,1.13)" font-size="27.5" text-anchor="end" >0.01</text>
<line x1="1579.60" y1="934.93" x2="1589.00" y2="934.93" stroke="#000" stroke-width="1.6"/>
<line x1="1579.60" y1="917.06" x2="1589.00" y2="917.06" stroke="#000" stroke-width="1.6"/>
<line x1="1579.60" y1="904.37" x2="1589.00" y2="904.37" stroke="#000" stroke-width="1.6"/>
<line x1="1579.60" y1="894.53" x2="1589.00" y2="894.53" stroke="#000" stroke-width="1.6"/>
<line x1="1579.60" y1="886.50" x2="1589.00" y2="886.50" stroke="#000" stroke-width="1.6"/>
<line x1="1579.60" y1="879.70" x2="1589.00" y2="879.70" stroke="#000" stroke-width="1.6"/>
<line x1="1579.60" y1="873.81" x2="1589.00" y2="873.81" stroke="#000" stroke-width="1.6"/>
<line x1="1579.60" y1="868.62" x2="1589.00" y2="868.62" stroke="#000" stroke-width="1.6"/>
<line x1="1573.40" y1="863.98" x2="1589.00" y2="863.98" stroke="#000" stroke-width="1.6"/>
<text transform="translate(1564.00,875.38) scale(1.02,1.13)" font-size="27.5" text-anchor="end" >0.1</text>
<line x1="1579.60" y1="833.42" x2="1589.00" y2="833.42" stroke="#000" stroke-width="1.6"/>
<line x1="1579.60" y1="815.54" x2="1589.00" y2="815.54" stroke="#000" stroke-width="1.6"/>
<line x1="1579.60" y1="802.86" x2="1589.00" y2="802.86" stroke="#000" stroke-width="1.6"/>
<line x1="1579.60" y1="793.02" x2="1589.00" y2="793.02" stroke="#000" stroke-width="1.6"/>
<line x1="1579.60" y1="784.99" x2="1589.00" y2="784.99" stroke="#000" stroke-width="1.6"/>
<line x1="1579.60" y1="778.19" x2="1589.00" y2="778.19" stroke="#000" stroke-width="1.6"/>
<line x1="1579.60" y1="772.30" x2="1589.00" y2="772.30" stroke="#000" stroke-width="1.6"/>
<line x1="1579.60" y1="767.11" x2="1589.00" y2="767.11" stroke="#000" stroke-width="1.6"/>
<line x1="1573.40" y1="762.47" x2="1589.00" y2="762.47" stroke="#000" stroke-width="1.6"/>
<text transform="translate(1564.00,773.87) scale(1.02,1.13)" font-size="27.5" text-anchor="end" >1</text>
<line x1="1579.60" y1="731.91" x2="1589.00" y2="731.91" stroke="#000" stroke-width="1.6"/>
<line x1="1579.60" y1="714.03" x2="1589.00" y2="714.03" stroke="#000" stroke-width="1.6"/>
<line x1="1579.60" y1="701.35" x2="1589.00" y2="701.35" stroke="#000" stroke-width="1.6"/>
<line x1="1579.60" y1="691.51" x2="1589.00" y2="691.51" stroke="#000" stroke-width="1.6"/>
<line x1="1579.60" y1="683.47" x2="1589.00" y2="683.47" stroke="#000" stroke-width="1.6"/>
<line x1="1579.60" y1="676.68" x2="1589.00" y2="676.68" stroke="#000" stroke-width="1.6"/>
<line x1="1579.60" y1="670.79" x2="1589.00" y2="670.79" stroke="#000" stroke-width="1.6"/>
<line x1="1579.60" y1="665.60" x2="1589.00" y2="665.60" stroke="#000" stroke-width="1.6"/>
<line x1="1573.40" y1="660.95" x2="1589.00" y2="660.95" stroke="#000" stroke-width="1.6"/>
<text transform="translate(1564.00,672.35) scale(1.02,1.13)" font-size="27.5" text-anchor="end" >10</text>
<line x1="1579.60" y1="630.40" x2="1589.00" y2="630.40" stroke="#000" stroke-width="1.6"/>
<line x1="1579.60" y1="612.52" x2="1589.00" y2="612.52" stroke="#000" stroke-width="1.6"/>
<line x1="1579.60" y1="599.84" x2="1589.00" y2="599.84" stroke="#000" stroke-width="1.6"/>
<line x1="1579.60" y1="590.00" x2="1589.00" y2="590.00" stroke="#000" stroke-width="1.6"/>
<line x1="1613.44" y1="1067.00" x2="1613.44" y2="1076.40" stroke="#000" stroke-width="1.6"/>
<line x1="1636.66" y1="1067.00" x2="1636.66" y2="1076.40" stroke="#000" stroke-width="1.6"/>
<line x1="1656.78" y1="1067.00" x2="1656.78" y2="1076.40" stroke="#000" stroke-width="1.6"/>
<line x1="1674.53" y1="1067.00" x2="1674.53" y2="1076.40" stroke="#000" stroke-width="1.6"/>
<line x1="1690.40" y1="1067.00" x2="1690.40" y2="1082.60" stroke="#000" stroke-width="1.6"/>
<text transform="translate(1690.40,1112.30) scale(1.02,1.13)" font-size="27.5" text-anchor="middle" >0.01</text>
<line x1="1794.83" y1="1067.00" x2="1794.83" y2="1076.40" stroke="#000" stroke-width="1.6"/>
<line x1="1855.92" y1="1067.00" x2="1855.92" y2="1076.40" stroke="#000" stroke-width="1.6"/>
<line x1="1899.26" y1="1067.00" x2="1899.26" y2="1076.40" stroke="#000" stroke-width="1.6"/>
<line x1="1932.88" y1="1067.00" x2="1932.88" y2="1076.40" stroke="#000" stroke-width="1.6"/>
<line x1="1960.35" y1="1067.00" x2="1960.35" y2="1076.40" stroke="#000" stroke-width="1.6"/>
<line x1="1983.57" y1="1067.00" x2="1983.57" y2="1076.40" stroke="#000" stroke-width="1.6"/>
<line x1="2003.69" y1="1067.00" x2="2003.69" y2="1076.40" stroke="#000" stroke-width="1.6"/>
<line x1="2021.43" y1="1067.00" x2="2021.43" y2="1076.40" stroke="#000" stroke-width="1.6"/>
<line x1="2037.31" y1="1067.00" x2="2037.31" y2="1082.60" stroke="#000" stroke-width="1.6"/>
<text transform="translate(2037.31,1112.30) scale(1.02,1.13)" font-size="27.5" text-anchor="middle" >0.1</text>
<line x1="2141.74" y1="1067.00" x2="2141.74" y2="1076.40" stroke="#000" stroke-width="1.6"/>
<defs>
<clipPath id="ct0"><rect x="110.0" y="0.7" width="581.0" height="477.5"/></clipPath>
<clipPath id="cb0"><rect x="110.0" y="590.0" width="581.0" height="477.0"/></clipPath>
<clipPath id="ct1"><rect x="849.5" y="0.7" width="581.0" height="477.5"/></clipPath>
<clipPath id="cb1"><rect x="849.5" y="590.0" width="581.0" height="477.0"/></clipPath>
<clipPath id="ct2"><rect x="1589.0" y="0.7" width="581.0" height="477.5"/></clipPath>
<clipPath id="cb2"><rect x="1589.0" y="590.0" width="581.0" height="477.0"/></clipPath>
</defs>
<path d="M240.9,386.8 C245.7,391.4 249.6,397.9 255.4,400.7 C261.8,403.9 270.1,404.3 277.5,404.9 C286.7,405.7 296.0,405.0 305.3,404.9 C319.2,404.8 333.0,404.4 346.9,404.2 C365.0,403.9 383.1,403.6 401.2,403.5 C411.7,403.4 422.3,403.7 432.8,403.5 C442.0,403.3 451.5,403.8 460.5,402.2 C470.0,400.5 479.4,397.6 488.3,393.8 C497.9,389.7 507.0,384.0 516.0,378.6 C525.4,372.9 534.3,366.3 543.7,360.6 C550.9,356.2 558.5,352.3 565.9,348.1 C572.4,344.4 579.7,341.7 585.3,337.0 C591.7,331.6 597.0,324.5 602.0,317.6 C607.1,310.6 611.1,302.7 615.8,295.4 C620.3,288.4 623.8,280.0 629.7,274.6 C634.0,270.7 640.6,269.3 646.3,267.7 C653.5,265.6 661.0,264.5 668.5,263.5 C676.3,262.4 684.3,262.0 692.2,261.3" fill="none" stroke="#00F8BC" stroke-width="4.1" stroke-linejoin="round" stroke-linecap="square" clip-path="url(#ct0)"/>
<path d="M240.3,464.0 C244.9,461.7 249.6,459.3 254.2,457.0 C258.8,454.7 264.0,453.2 268.0,450.0 C273.6,445.5 278.6,439.8 283.0,434.0 C288.3,427.1 293.6,419.9 297.0,412.0 C300.6,403.7 301.9,394.4 304.1,385.6 C308.0,369.9 311.4,354.2 315.2,338.5 C318.8,323.7 322.2,308.9 326.2,294.2 C330.5,278.4 334.2,262.2 340.1,247.0 C343.5,238.2 348.3,229.5 354.0,222.1 C358.4,216.4 364.3,210.6 370.6,207.5 C375.4,205.1 381.7,206.0 387.2,205.6 C391.5,205.3 395.7,205.5 400.0,205.5 C497.0,205.5 594.0,205.5 691.0,205.5" fill="none" stroke="#00F8BC" stroke-width="4.1" stroke-linejoin="round" stroke-dasharray="15.2 6.6" stroke-linecap="butt" clip-path="url(#ct0)"/>
<path d="M239.7,385.6 C244.5,390.2 248.4,396.7 254.2,399.5 C260.6,402.7 268.9,403.1 276.3,403.7 C285.5,404.5 294.8,403.8 304.1,403.7 C318.0,403.6 331.8,403.2 345.7,403.0 C363.8,402.7 381.9,402.4 400.0,402.3 C410.5,402.2 421.1,402.5 431.6,402.3 C440.8,402.1 450.3,402.6 459.3,401.0 C468.8,399.3 478.2,396.4 487.1,392.6 C496.7,388.5 505.8,382.8 514.8,377.4 C524.2,371.7 533.1,365.1 542.5,359.4 C549.7,355.0 557.3,351.1 564.7,346.9 C571.2,343.2 578.5,340.5 584.1,335.8 C590.5,330.4 595.8,323.3 600.8,316.4 C605.9,309.4 609.9,301.5 614.6,294.2 C619.1,287.2 622.6,278.8 628.5,273.4 C632.8,269.5 639.4,268.1 645.1,266.5 C652.3,264.4 659.8,263.3 667.3,262.3 C675.1,261.2 683.1,260.8 691.0,260.1" fill="none" stroke="#00BEF8" stroke-width="4.1" stroke-linejoin="round" stroke-linecap="square" clip-path="url(#ct0)"/>
<path d="M240.3,463.3 C244.9,460.5 249.5,457.6 254.2,455.0 C258.7,452.5 264.3,451.4 268.0,448.0 C273.5,443.0 277.8,436.4 281.9,430.0 C287.0,422.0 292.3,413.8 295.7,405.0 C300.6,392.5 303.9,379.3 306.8,366.2 C310.4,349.8 312.3,332.9 315.2,316.3 C317.9,300.6 319.6,284.6 323.5,269.2 C326.1,258.7 330.0,248.4 334.6,238.7 C338.3,230.9 342.7,222.9 348.4,216.5 C352.9,211.5 359.0,206.9 365.1,204.5 C370.1,202.6 376.2,203.6 381.7,203.5 C387.8,203.4 393.9,204.0 400.0,204.0 C497.0,204.2 594.0,204.0 691.0,204.0" fill="none" stroke="#00BEF8" stroke-width="4.1" stroke-linejoin="round" stroke-dasharray="15.2 6.6" stroke-linecap="butt" clip-path="url(#ct0)"/>
<path d="M239.7,385.6 C244.5,389.8 248.6,395.5 254.2,398.1 C260.8,401.1 268.9,401.7 276.3,402.3 C285.5,403.1 294.8,402.7 304.1,402.3 C318.0,401.7 331.8,400.5 345.7,399.5 C363.8,398.2 381.9,396.4 400.0,395.4 C410.5,394.8 421.1,395.2 431.6,394.6 C443.6,394.0 455.8,393.9 467.6,391.8 C477.1,390.1 486.4,386.7 495.4,383.0 C504.9,379.1 514.3,374.5 523.1,369.1 C531.0,364.3 538.0,358.0 545.3,352.4 C551.8,347.4 558.0,342.0 564.7,337.2 C571.0,332.7 578.1,329.5 584.1,324.7 C589.2,320.7 594.0,316.0 598.0,310.8 C603.3,304.0 606.9,295.8 611.8,288.7 C616.1,282.4 620.1,275.4 625.7,270.6 C629.4,267.5 634.8,266.2 639.6,265.1 C648.6,263.0 658.0,262.1 667.3,260.9 C675.2,259.8 683.1,259.1 691.0,258.2" fill="none" stroke="#1000F8" stroke-width="4.1" stroke-linejoin="round" stroke-linecap="square" clip-path="url(#ct0)"/>
<path d="M240.3,457.7 C243.1,455.9 246.4,454.7 248.6,452.2 C252.9,447.3 255.6,440.8 259.7,435.6 C263.0,431.5 268.4,429.0 270.8,424.5 C275.8,415.2 278.3,404.2 281.9,394.0 C285.7,383.0 289.8,371.9 293.0,360.7 C297.2,346.0 300.8,331.2 304.1,316.3 C308.2,297.9 311.4,279.3 315.2,260.9 C317.9,247.9 319.7,234.7 323.5,222.1 C326.1,213.4 329.3,204.1 334.6,197.1 C338.5,192.0 345.2,188.2 351.2,186.0 C355.4,184.5 360.8,184.8 365.1,186.0 C370.9,187.6 376.1,191.9 381.7,194.4 C384.4,195.6 387.3,196.1 390.0,197.1 C393.7,198.4 397.3,200.6 401.1,201.3 C405.6,202.1 410.4,201.6 415.0,201.6 C507.0,201.7 599.0,201.6 691.0,201.6" fill="none" stroke="#1000F8" stroke-width="4.1" stroke-linejoin="round" stroke-dasharray="15.2 6.6" stroke-linecap="butt" clip-path="url(#ct0)"/>
<path d="M239.7,385.6 C242.7,386.7 245.5,389.0 248.6,389.0 C254.1,389.0 259.9,387.3 265.3,385.6 C271.0,383.8 276.5,381.2 281.9,378.7 C289.4,375.2 296.7,371.3 304.1,367.6 C311.5,363.9 318.7,360.0 326.2,356.5 C332.6,353.5 339.1,350.7 345.7,348.2 C354.8,344.7 364.0,341.1 373.4,338.5 C382.1,336.1 391.1,334.4 400.0,333.0 C405.8,332.1 411.8,332.1 417.7,331.6 C431.6,330.5 445.4,329.4 459.3,328.3 C468.6,327.6 478.2,328.2 487.1,326.1 C496.7,323.8 505.8,319.3 514.8,315.0 C524.3,310.5 533.6,305.3 542.5,299.8 C549.3,295.6 555.8,290.9 561.9,285.9 C568.7,280.3 574.2,273.1 581.3,267.9 C586.3,264.3 592.1,261.3 598.0,259.5 C606.9,256.7 616.4,255.4 625.7,254.0 C639.5,251.9 653.4,250.7 667.3,249.0 C675.2,248.1 683.1,247.1 691.0,246.2" fill="none" stroke="#6A00F8" stroke-width="4.1" stroke-linejoin="round" stroke-linecap="square" clip-path="url(#ct0)"/>
<path d="M240.3,414.8 C243.1,409.7 246.5,404.9 248.6,399.5 C252.9,388.7 255.5,377.1 259.7,366.2 C262.8,358.3 266.9,350.7 270.5,343.0 C274.3,335.0 277.4,326.5 281.9,319.1 C283.9,315.8 288.7,314.3 290.2,310.8 C294.2,301.4 294.4,289.8 298.5,280.3 C300.8,275.0 307.1,271.7 309.6,266.4 C314.5,256.0 316.7,244.2 320.7,233.2 C324.1,223.8 327.0,214.0 331.8,205.4 C335.3,199.2 340.3,193.5 345.7,188.8 C351.4,183.8 358.2,179.5 365.1,176.3 C370.2,173.9 376.1,173.1 381.7,172.2 C388.1,171.2 394.9,170.0 401.1,170.8 C405.1,171.3 408.9,173.9 412.2,176.3 C416.3,179.4 419.5,183.8 423.3,187.4 C426.9,190.8 430.3,194.7 434.4,197.1 C437.7,199.0 441.7,199.9 445.5,200.5 C450.2,201.3 455.2,201.3 460.0,201.3 C537.0,201.6 614.0,201.3 691.0,201.3" fill="none" stroke="#6A00F8" stroke-width="4.1" stroke-linejoin="round" stroke-dasharray="15.2 6.6" stroke-linecap="butt" clip-path="url(#ct0)"/>
<path d="M110.0,218.5 C114.0,218.3 118.0,218.3 122.0,218.0 C126.3,217.7 130.9,217.8 135.0,216.5 C138.9,215.3 142.3,210.6 146.0,210.4 C149.2,210.2 152.7,213.3 155.7,215.2 C159.1,217.4 162.6,219.7 165.4,222.6 C169.6,227.0 173.2,232.2 176.5,237.3 C180.6,243.5 184.2,250.1 187.6,256.7 C190.7,262.6 193.7,268.6 196.0,274.8 C199.3,283.8 201.4,293.3 204.3,302.5 C206.9,310.8 209.4,319.3 212.6,327.4 C214.9,333.2 218.0,338.6 220.9,344.1 C224.4,350.7 228.9,356.8 232.0,363.5 C235.1,370.2 237.1,377.4 239.7,384.3" fill="none" stroke="#000000" stroke-width="4.1" stroke-linejoin="round" stroke-dasharray="26.2 6.6 4.1 6.6" stroke-dashoffset="29.5" stroke-linecap="butt" clip-path="url(#ct0)"/>
<path d="M239.7,384.3 C242.7,382.9 245.8,381.7 248.6,380.1 C253.8,377.1 258.5,373.1 263.9,370.4 C269.6,367.5 275.8,365.5 281.9,363.5 C289.2,361.1 296.6,358.7 304.1,357.4 C311.3,356.1 318.8,355.9 326.2,355.7 C350.8,355.1 375.4,355.3 400.0,355.2 C410.5,355.2 421.1,355.4 431.6,355.2 C445.5,354.9 459.7,356.0 473.2,353.8 C482.8,352.3 491.9,347.9 500.9,344.1 C510.4,340.1 520.2,336.0 528.7,330.3 C536.8,324.9 543.9,317.7 550.8,310.8 C557.7,303.9 563.5,295.8 570.3,288.7 C576.4,282.4 582.5,275.5 589.7,270.6 C596.3,266.2 604.1,263.2 611.8,260.9 C620.8,258.3 630.3,257.2 639.6,255.9 C648.8,254.6 658.1,253.9 667.3,253.2 C675.2,252.6 683.1,252.4 691.0,252.0" fill="none" stroke="#000000" stroke-width="4.1" stroke-linejoin="round" stroke-linecap="square" clip-path="url(#ct0)"/>
<path d="M1141.3,400.0 C1144.0,401.6 1146.4,404.7 1149.4,404.8 C1158.8,405.1 1168.8,402.2 1178.5,401.2 C1189.0,400.2 1199.5,399.3 1210.0,398.8 C1223.3,398.2 1236.7,398.4 1250.0,398.0 C1260.0,397.7 1270.1,398.1 1280.0,396.9 C1289.3,395.8 1298.9,394.3 1307.7,391.3 C1314.6,389.0 1321.5,385.5 1327.2,381.0 C1335.4,374.6 1342.2,366.2 1349.3,358.5 C1356.9,350.2 1363.8,341.2 1371.5,333.0 C1377.7,326.4 1385.2,321.0 1390.9,314.0 C1397.2,306.3 1402.0,297.3 1407.6,289.0 C1412.2,282.3 1416.2,274.9 1421.5,269.0 C1423.6,266.7 1427.2,265.9 1430.0,264.3" fill="none" stroke="#00F8BC" stroke-width="4.1" stroke-linejoin="round" stroke-linecap="square" clip-path="url(#ct1)"/>
<path d="M1143.3,436.4 C1145.7,428.3 1148.5,420.3 1150.6,412.1 C1153.4,400.9 1155.4,389.5 1157.9,378.2 C1160.6,366.0 1163.6,353.9 1166.4,341.8 C1169.2,329.7 1172.2,317.6 1174.8,305.5 C1177.0,295.0 1179.3,284.5 1180.9,273.9 C1182.6,262.7 1183.1,251.3 1184.5,240.0 C1185.5,231.9 1186.0,223.6 1188.2,215.8 C1189.7,210.6 1192.3,205.4 1195.5,201.2 C1197.9,198.1 1201.6,195.4 1205.2,193.9 C1208.0,192.7 1211.7,192.5 1214.8,193.0 C1220.5,194.0 1225.8,197.2 1231.5,198.5 C1239.7,200.4 1248.0,202.1 1256.4,202.7 C1267.5,203.6 1278.8,203.0 1290.0,203.0 C1336.7,203.1 1383.3,203.0 1430.0,203.0" fill="none" stroke="#00F8BC" stroke-width="4.1" stroke-linejoin="round" stroke-dasharray="15.2 6.6" stroke-linecap="butt" clip-path="url(#ct1)"/>
<path d="M1140.9,398.8 C1143.7,400.0 1146.5,402.2 1149.4,402.4 C1153.3,402.6 1157.4,400.7 1161.5,400.0 C1167.1,399.1 1172.8,398.2 1178.5,397.6 C1189.0,396.6 1199.5,395.8 1210.0,395.2 C1216.2,394.8 1222.5,394.7 1228.7,394.5 C1245.8,393.9 1263.0,394.3 1280.0,392.7 C1289.3,391.8 1298.8,390.1 1307.7,387.2 C1314.6,385.0 1321.5,381.9 1327.2,377.5 C1335.4,371.2 1342.2,362.9 1349.3,355.3 C1356.9,347.2 1363.9,338.4 1371.5,330.3 C1377.8,323.6 1385.2,318.0 1390.9,310.9 C1397.2,303.2 1401.9,294.2 1407.6,285.9 C1412.1,279.4 1416.2,272.1 1421.5,266.5 C1423.6,264.3 1427.2,263.7 1430.0,262.3" fill="none" stroke="#00BEF8" stroke-width="4.1" stroke-linejoin="round" stroke-linecap="square" clip-path="url(#ct1)"/>
<path d="M1140.9,433.9 C1142.9,427.4 1145.4,421.1 1147.0,414.5 C1149.9,402.5 1151.4,390.2 1154.2,378.2 C1157.0,366.0 1160.6,353.9 1163.9,341.8 C1166.7,331.3 1170.0,320.9 1172.4,310.3 C1174.9,299.1 1176.9,287.8 1178.5,276.4 C1180.2,264.3 1180.7,252.1 1182.1,240.0 C1183.1,231.1 1183.7,222.0 1185.8,213.3 C1187.4,206.6 1189.5,199.6 1193.0,193.9 C1195.2,190.4 1199.1,187.5 1202.7,185.5 C1204.8,184.3 1207.6,183.9 1210.0,184.2 C1213.5,184.6 1217.2,185.8 1220.4,187.5 C1225.3,190.1 1229.2,194.9 1234.2,197.2 C1239.3,199.5 1245.2,200.8 1250.9,201.3 C1263.8,202.4 1277.0,201.9 1290.0,202.0 C1336.7,202.2 1383.3,202.0 1430.0,202.0" fill="none" stroke="#00BEF8" stroke-width="4.1" stroke-linejoin="round" stroke-dasharray="15.2 6.6" stroke-linecap="butt" clip-path="url(#ct1)"/>
<path d="M1140.9,396.4 C1142.9,396.4 1145.3,397.3 1147.0,396.4 C1150.6,394.5 1153.6,390.9 1156.7,387.9 C1160.8,384.0 1164.3,379.3 1168.8,375.8 C1173.2,372.4 1178.2,369.6 1183.3,367.3 C1187.9,365.2 1193.0,363.9 1197.9,362.4 C1203.5,360.8 1209.1,359.1 1214.8,358.0 C1226.8,355.8 1238.8,354.0 1250.9,352.5 C1260.6,351.3 1270.3,350.7 1280.0,349.7 C1289.2,348.8 1298.9,349.3 1307.7,346.9 C1315.5,344.7 1322.7,339.9 1329.9,335.9 C1337.5,331.6 1345.2,327.3 1352.1,322.0 C1357.3,318.0 1362.0,313.3 1366.0,308.1 C1371.3,301.2 1375.1,293.2 1379.9,285.9 C1385.2,277.9 1390.0,269.1 1396.5,262.3 C1399.3,259.4 1403.7,258.0 1407.6,256.8 C1414.8,254.6 1422.5,253.7 1430.0,252.1" fill="none" stroke="#1000F8" stroke-width="4.1" stroke-linejoin="round" stroke-linecap="square" clip-path="url(#ct1)"/>
<path d="M1140.9,421.8 C1142.1,411.3 1143.1,400.8 1144.5,390.3 C1146.7,374.1 1148.9,357.9 1151.8,341.8 C1154.6,326.4 1157.2,310.8 1161.5,295.8 C1164.1,286.6 1168.8,278.0 1172.4,269.1 C1174.0,265.1 1176.3,261.2 1177.3,257.0 C1179.2,249.1 1179.4,240.8 1180.9,232.7 C1182.7,223.0 1184.1,213.0 1187.0,203.6 C1188.6,198.5 1191.3,193.6 1194.2,189.1 C1196.5,185.5 1199.4,181.9 1202.7,179.4 C1204.7,177.9 1207.5,177.7 1210.0,177.0 C1216.2,175.3 1222.5,172.6 1228.7,172.2 C1232.4,172.0 1236.8,172.9 1239.8,175.0 C1246.0,179.3 1250.4,186.7 1256.4,191.6 C1260.5,195.0 1265.3,198.4 1270.3,199.9 C1276.5,201.7 1283.4,201.2 1290.0,201.3 C1336.7,201.7 1383.3,201.3 1430.0,201.3" fill="none" stroke="#1000F8" stroke-width="4.1" stroke-linejoin="round" stroke-dasharray="15.2 6.6" stroke-linecap="butt" clip-path="url(#ct1)"/>
<path d="M1139.7,397.6 C1140.3,378.4 1140.6,359.2 1141.5,340.0 C1142.2,323.6 1142.0,306.8 1144.5,290.9 C1145.1,287.2 1148.9,284.6 1150.6,281.2 C1154.6,273.3 1157.4,264.8 1161.5,257.0 C1165.0,250.3 1169.0,243.6 1173.6,237.6 C1177.1,233.1 1181.5,229.3 1185.8,225.5 C1189.6,222.1 1193.7,218.8 1197.9,215.8 C1201.7,213.1 1205.7,210.4 1210.0,208.5 C1218.7,204.6 1227.8,201.2 1237.0,198.5 C1246.1,195.8 1255.5,193.8 1264.8,192.2 C1269.8,191.4 1274.9,191.6 1280.0,191.3 C1284.6,191.0 1289.3,190.2 1293.9,190.2 C1339.3,189.9 1384.6,190.2 1430.0,190.2" fill="none" stroke="#6A00F8" stroke-width="4.1" stroke-linejoin="round" stroke-linecap="square" clip-path="url(#ct1)"/>
<path d="M1140.9,264.2 C1141.8,265.5 1143.1,266.5 1143.5,268.0 C1145.0,273.1 1145.1,279.3 1146.5,284.0 C1146.7,284.5 1148.0,284.1 1148.2,283.6 C1150.6,275.1 1151.8,265.8 1154.2,257.0 C1156.2,249.6 1158.6,242.3 1161.5,235.2 C1163.9,229.3 1166.7,223.6 1170.0,218.2 C1172.4,214.3 1175.7,211.0 1178.5,207.3 C1180.6,204.5 1182.7,201.7 1184.5,198.8 C1187.5,194.0 1189.6,188.6 1193.0,184.2 C1195.6,180.9 1199.2,178.3 1202.7,175.8 C1204.9,174.2 1207.6,173.3 1210.0,172.1 C1215.3,169.4 1220.3,165.8 1225.9,163.9 C1230.3,162.4 1235.2,161.5 1239.8,161.7 C1247.2,162.0 1254.6,163.9 1262.0,165.3 C1268.0,166.5 1274.0,168.1 1280.0,169.4 C1282.7,170.0 1286.1,169.3 1288.3,170.8 C1291.6,173.0 1294.2,177.0 1296.6,180.5 C1299.7,184.9 1301.5,190.4 1305.0,194.4 C1307.1,196.9 1310.2,199.0 1313.3,199.9 C1316.9,201.0 1321.1,200.5 1325.0,200.5 C1360.0,200.7 1395.0,200.5 1430.0,200.5" fill="none" stroke="#6A00F8" stroke-width="4.1" stroke-linejoin="round" stroke-dasharray="15.2 6.6" stroke-linecap="butt" clip-path="url(#ct1)"/>
<path d="M849.5,194.4 C929.7,194.4 1010.1,193.9 1090.2,194.4 C1091.2,194.4 1092.6,195.1 1092.8,196.0 C1094.0,201.9 1093.9,208.7 1094.4,215.0 C1094.8,221.1 1095.3,227.1 1095.5,233.2 C1096.1,251.7 1096.4,270.2 1096.9,288.7 C1097.4,307.2 1097.5,325.7 1098.3,344.2 C1098.9,358.1 1099.6,372.0 1101.1,385.8 C1102.3,396.9 1103.4,408.5 1106.6,419.0 C1108.0,423.7 1111.4,428.8 1115.0,431.5 C1117.0,433.0 1121.1,432.8 1123.3,431.5 C1126.7,429.5 1129.5,425.4 1131.6,421.8 C1134.1,417.6 1135.6,412.7 1137.2,408.0 C1138.4,404.4 1139.0,400.6 1139.9,396.9" fill="none" stroke="#000000" stroke-width="4.1" stroke-linejoin="round" stroke-dasharray="26.2 6.6 4.1 6.6" stroke-dashoffset="29.5" stroke-linecap="butt" clip-path="url(#ct1)"/>
<path d="M1138.5,396.4 C1140.5,385.5 1142.2,374.5 1144.5,363.6 C1146.6,353.8 1148.8,344.0 1151.8,334.5 C1154.4,326.2 1157.4,317.9 1161.5,310.3 C1163.9,305.8 1167.6,301.8 1171.2,298.2 C1174.8,294.6 1178.9,291.1 1183.3,288.5 C1187.8,285.8 1192.9,284.0 1197.9,282.4 C1203.4,280.6 1209.1,279.5 1214.8,278.4 C1224.0,276.7 1233.3,275.0 1242.6,274.0 C1255.0,272.6 1267.5,271.8 1280.0,271.2 C1289.2,270.7 1298.5,271.1 1307.7,270.7 C1317.0,270.3 1326.3,269.9 1335.5,268.7 C1340.2,268.1 1345.0,267.0 1349.3,265.1 C1354.2,263.0 1358.4,259.3 1363.2,256.8 C1367.7,254.4 1372.3,251.9 1377.1,250.4 C1383.4,248.4 1390.0,247.4 1396.5,246.3 C1407.6,244.4 1418.8,243.1 1430.0,241.5" fill="none" stroke="#000000" stroke-width="4.1" stroke-linejoin="round" stroke-linecap="square" clip-path="url(#ct1)"/>
<path d="M1711.0,245.5 C1718.4,250.2 1725.7,255.0 1733.2,259.5 C1742.3,264.9 1753.0,268.3 1760.9,275.0 C1769.6,282.4 1776.9,292.2 1783.0,302.0 C1789.8,313.0 1793.1,326.3 1799.7,337.5 C1804.2,345.0 1809.6,352.6 1816.3,358.0 C1822.5,363.0 1830.7,366.5 1838.5,368.5 C1845.3,370.2 1852.8,369.2 1860.0,369.0 C1899.7,368.0 1939.8,368.2 1979.2,364.8 C1990.6,363.8 2001.9,360.3 2012.4,356.0 C2021.3,352.4 2029.8,347.0 2037.4,341.0 C2045.5,334.6 2052.7,326.8 2059.6,319.0 C2067.5,310.1 2074.0,300.1 2081.7,291.0 C2087.9,283.7 2093.6,275.6 2101.1,270.0 C2107.5,265.2 2115.5,261.8 2123.3,260.0 C2138.4,256.5 2154.4,255.9 2170.0,253.9" fill="none" stroke="#00F8BC" stroke-width="4.1" stroke-linejoin="round" stroke-linecap="square" clip-path="url(#ct2)"/>
<path d="M1712.4,418.9 C1723.0,420.3 1733.7,421.3 1744.3,423.1 C1749.9,424.1 1755.6,425.2 1760.9,427.2 C1766.7,429.4 1772.1,432.6 1777.5,435.6 C1783.2,438.7 1788.4,444.6 1794.2,445.3 C1799.5,446.0 1805.3,441.8 1810.8,439.7 C1816.4,437.6 1822.8,436.3 1827.4,432.8 C1832.0,429.4 1836.3,424.3 1838.5,418.9 C1841.9,410.4 1841.0,399.9 1844.1,391.2 C1845.6,386.9 1849.2,383.3 1852.4,380.1 C1856.5,375.9 1863.8,374.0 1866.2,369.0 C1870.3,360.6 1869.8,349.6 1872.0,340.0 C1874.2,330.2 1878.0,320.7 1879.4,310.8 C1882.3,289.7 1882.1,268.1 1884.9,247.0 C1886.7,233.0 1888.2,217.9 1893.3,205.4 C1895.6,199.9 1902.1,196.3 1907.1,193.0 C1909.4,191.5 1912.7,190.6 1915.4,191.0 C1921.0,191.9 1926.5,195.2 1932.1,197.1 C1937.6,198.9 1943.0,201.3 1948.7,202.1 C1955.7,203.1 1962.9,202.4 1970.0,202.4 C2036.7,202.5 2103.3,202.4 2170.0,202.4" fill="none" stroke="#00F8BC" stroke-width="4.1" stroke-linejoin="round" stroke-dasharray="15.2 6.6" stroke-linecap="butt" clip-path="url(#ct2)"/>
<path d="M1711.0,245.0 C1718.4,249.7 1725.7,254.5 1733.2,259.0 C1742.3,264.4 1752.9,267.8 1760.9,274.5 C1769.5,281.8 1776.9,291.3 1783.0,301.0 C1789.8,311.8 1793.1,325.0 1799.7,336.0 C1804.2,343.5 1809.6,351.3 1816.3,356.5 C1822.5,361.3 1830.8,364.5 1838.5,366.2 C1845.3,367.7 1852.8,366.3 1860.0,366.2 C1878.5,365.9 1896.9,365.5 1915.4,364.8 C1936.7,364.1 1958.1,364.4 1979.2,362.0 C1990.5,360.7 2001.9,357.9 2012.4,353.7 C2021.3,350.1 2029.8,344.5 2037.4,338.5 C2045.5,332.0 2052.7,324.1 2059.6,316.3 C2067.4,307.5 2074.0,297.6 2081.7,288.6 C2087.9,281.4 2093.6,273.3 2101.1,267.8 C2107.5,263.1 2115.5,259.8 2123.3,258.1 C2138.5,254.7 2154.4,254.4 2170.0,252.5" fill="none" stroke="#00BEF8" stroke-width="4.1" stroke-linejoin="round" stroke-linecap="square" clip-path="url(#ct2)"/>
<path d="M1712.4,412.0 C1716.5,412.9 1720.6,414.3 1724.8,414.8 C1732.1,415.7 1739.7,415.1 1747.0,416.2 C1751.7,416.9 1756.5,418.3 1760.9,420.3 C1766.7,422.9 1771.9,427.0 1777.5,430.0 C1783.0,433.0 1788.5,437.8 1794.2,438.3 C1799.6,438.8 1805.3,434.8 1810.8,432.8 C1815.5,431.1 1820.6,429.9 1824.7,427.2 C1828.9,424.4 1833.5,420.7 1835.7,416.2 C1839.0,409.6 1839.9,401.5 1841.3,394.0 C1842.7,386.7 1841.8,378.7 1844.1,371.8 C1846.4,364.9 1851.1,358.5 1855.2,352.4 C1857.3,349.3 1861.3,347.4 1862.8,344.0 C1867.5,333.5 1871.9,322.2 1873.9,310.8 C1877.5,289.9 1876.6,268.1 1879.4,247.0 C1881.2,233.0 1883.6,218.8 1887.7,205.4 C1890.1,197.6 1893.7,188.7 1898.8,183.3 C1901.1,180.9 1906.5,180.9 1909.9,181.9 C1915.7,183.6 1920.9,188.5 1926.5,191.6 C1931.9,194.5 1937.3,198.2 1943.1,199.9 C1948.4,201.4 1954.3,201.3 1960.0,201.3 C2030.0,201.7 2100.0,201.3 2170.0,201.3" fill="none" stroke="#00BEF8" stroke-width="4.1" stroke-linejoin="round" stroke-dasharray="15.2 6.6" stroke-linecap="butt" clip-path="url(#ct2)"/>
<path d="M1711.0,244.3 C1718.4,248.9 1725.7,253.7 1733.2,258.1 C1742.3,263.4 1752.9,266.8 1760.9,273.4 C1769.5,280.6 1776.8,290.2 1783.0,299.7 C1789.7,310.0 1793.1,322.6 1799.7,333.0 C1804.2,340.1 1809.9,347.1 1816.3,352.4 C1821.0,356.3 1827.2,360.0 1833.0,360.7 C1839.2,361.4 1845.9,357.8 1852.4,356.5 C1854.9,356.0 1857.7,356.1 1860.0,355.1 C1869.4,351.0 1878.1,344.8 1887.7,341.2 C1896.6,337.9 1906.0,336.0 1915.4,334.3 C1929.1,331.8 1943.1,330.2 1957.0,328.8 C1974.5,327.0 1992.9,328.5 2009.7,324.6 C2018.8,322.5 2026.5,315.7 2034.6,310.8 C2044.0,305.1 2053.4,299.2 2062.3,292.7 C2069.1,287.7 2075.3,281.7 2081.7,276.1 C2087.3,271.1 2091.9,264.3 2098.4,260.9 C2105.8,256.9 2114.8,255.5 2123.3,253.9 C2138.7,251.0 2154.4,249.7 2170.0,247.6" fill="none" stroke="#1000F8" stroke-width="4.1" stroke-linejoin="round" stroke-linecap="square" clip-path="url(#ct2)"/>
<path d="M1712.4,367.6 C1716.5,369.0 1720.5,371.5 1724.8,371.8 C1732.1,372.4 1739.7,370.1 1747.0,370.4 C1750.8,370.6 1755.3,370.9 1758.1,373.2 C1762.7,376.9 1764.7,384.2 1769.2,388.4 C1773.0,392.0 1779.0,393.2 1783.0,396.7 C1787.4,400.6 1790.1,410.4 1794.2,410.6 C1798.5,410.8 1803.0,401.7 1808.0,398.1 C1811.3,395.7 1816.6,395.6 1819.1,392.6 C1824.0,386.9 1827.0,378.9 1830.2,371.8 C1833.4,364.6 1836.5,357.2 1838.5,349.6 C1841.1,339.6 1841.3,328.9 1844.1,319.1 C1845.0,316.0 1847.5,313.4 1849.6,310.8 C1854.9,304.2 1861.9,298.6 1866.2,291.4 C1870.0,285.0 1871.8,277.3 1874.0,270.0 C1876.2,262.5 1877.8,254.7 1879.4,247.0 C1882.3,233.2 1884.5,219.2 1887.7,205.4 C1890.0,195.6 1891.3,184.0 1896.0,176.3 C1897.8,173.4 1903.4,174.3 1907.1,173.6 C1912.6,172.5 1918.3,170.4 1923.7,170.8 C1929.4,171.3 1935.7,173.1 1940.4,176.3 C1945.9,180.0 1948.9,187.5 1954.2,191.6 C1959.0,195.3 1964.9,198.8 1970.9,199.9 C1980.2,201.7 1990.3,200.4 2000.0,200.4 C2056.7,200.5 2113.3,200.4 2170.0,200.4" fill="none" stroke="#1000F8" stroke-width="4.1" stroke-linejoin="round" stroke-dasharray="15.2 6.6" stroke-linecap="butt" clip-path="url(#ct2)"/>
<path d="M1711.0,238.7 C1719.3,239.6 1727.6,241.1 1735.9,241.5 C1746.0,242.0 1756.6,239.8 1766.4,241.5 C1772.3,242.5 1778.5,245.8 1783.0,249.8 C1787.8,254.1 1790.6,260.8 1794.2,266.4 C1796.2,269.5 1797.0,275.2 1799.7,276.1 C1802.5,277.1 1807.8,270.9 1810.8,272.0 C1814.3,273.3 1815.8,280.8 1819.1,283.1 C1820.5,284.1 1823.5,283.1 1824.7,281.7 C1828.2,277.5 1829.1,270.5 1833.0,266.4 C1838.3,260.8 1846.1,257.4 1852.4,252.6 C1855.1,250.5 1857.9,248.3 1860.0,245.6 C1865.1,239.0 1868.8,231.4 1873.9,224.8 C1878.1,219.4 1882.3,213.6 1887.7,209.6 C1894.3,204.8 1902.2,201.5 1909.9,198.5 C1918.9,195.0 1928.2,192.2 1937.6,190.2 C1948.5,187.9 1959.7,186.3 1970.9,185.5 C1984.7,184.5 1998.6,184.6 2012.4,184.6 C2064.9,184.6 2117.5,185.2 2170.0,185.5" fill="none" stroke="#6A00F8" stroke-width="4.1" stroke-linejoin="round" stroke-linecap="square" clip-path="url(#ct2)"/>
<path d="M1711.0,237.3 C1719.0,237.9 1727.1,238.0 1735.0,239.0 C1745.5,240.3 1757.2,240.1 1766.4,244.3 C1773.2,247.4 1778.3,254.8 1783.0,260.9 C1787.5,266.8 1789.9,277.9 1794.2,280.3 C1796.4,281.6 1799.3,273.0 1802.5,272.0 C1804.9,271.2 1809.0,272.7 1810.8,274.8 C1814.6,279.2 1816.7,292.2 1819.1,291.4 C1822.2,290.4 1825.0,276.7 1827.4,269.2 C1829.7,261.9 1829.3,252.0 1833.0,247.0 C1834.8,244.6 1841.2,248.8 1844.1,247.0 C1848.6,244.2 1851.8,238.0 1855.2,233.2 C1857.1,230.6 1858.2,227.5 1860.0,224.8 C1862.6,221.0 1865.7,217.5 1868.3,213.7 C1871.3,209.2 1874.0,204.6 1876.6,199.9 C1879.6,194.5 1881.5,188.4 1884.9,183.3 C1888.0,178.7 1891.4,173.6 1896.0,170.8 C1901.6,167.3 1908.7,165.2 1915.4,164.4 C1924.4,163.3 1933.9,164.2 1943.1,165.2 C1954.3,166.4 1965.6,168.1 1976.4,170.8 C1980.4,171.8 1984.6,173.6 1987.5,176.3 C1991.0,179.6 1992.8,184.8 1995.8,188.8 C1998.3,192.2 2000.4,197.2 2004.1,198.5 C2010.6,200.9 2018.9,199.8 2026.3,199.9 C2074.2,200.3 2122.1,199.9 2170.0,199.9" fill="none" stroke="#6A00F8" stroke-width="4.1" stroke-linejoin="round" stroke-dasharray="15.2 6.6" stroke-linecap="butt" clip-path="url(#ct2)"/>
<path d="M1589.0,197.0 C1590.4,197.0 1591.8,196.9 1593.2,197.1 C1599.2,197.9 1605.3,198.7 1611.2,199.9 C1616.8,201.0 1622.3,202.5 1627.8,204.1 C1633.4,205.7 1639.0,207.4 1644.4,209.6 C1650.1,212.0 1655.5,215.1 1661.1,217.9 C1666.6,220.7 1672.2,223.3 1677.7,226.2 C1680.5,227.7 1683.1,230.2 1686.0,231.0 C1688.2,231.6 1690.9,229.8 1693.0,230.4 C1696.4,231.4 1699.6,233.9 1702.7,236.0 C1705.6,238.0 1708.2,240.6 1711.0,242.9" fill="none" stroke="#000000" stroke-width="4.1" stroke-linejoin="round" stroke-dasharray="26.2 6.6 4.1 6.6" stroke-dashoffset="29.5" stroke-linecap="butt" clip-path="url(#ct2)"/>
<path d="M1711.0,244.3 C1716.5,244.7 1722.1,245.0 1727.6,245.6 C1734.1,246.3 1740.7,246.9 1747.0,248.4 C1752.7,249.7 1759.0,250.8 1763.7,254.0 C1769.2,257.7 1773.7,263.6 1777.5,269.2 C1782.0,276.0 1785.1,283.9 1788.6,291.4 C1792.5,299.6 1794.8,309.0 1799.7,316.3 C1802.2,320.1 1806.8,322.4 1810.8,324.7 C1814.7,327.0 1819.0,329.7 1823.3,330.2 C1826.4,330.6 1830.1,329.0 1833.0,327.4 C1837.0,325.3 1840.8,322.3 1844.1,319.1 C1848.6,314.9 1852.9,310.3 1856.5,305.3 C1860.3,300.1 1863.7,294.5 1866.2,288.6 C1871.2,276.9 1873.5,263.9 1879.0,252.6 C1881.6,247.3 1886.0,242.4 1890.5,238.7 C1894.4,235.5 1899.4,233.0 1904.3,231.8 C1912.3,229.8 1920.9,229.5 1929.3,229.0 C1943.1,228.1 1957.0,227.7 1970.9,227.6 C2037.3,227.0 2103.6,227.2 2170.0,227.0" fill="none" stroke="#000000" stroke-width="4.1" stroke-linejoin="round" stroke-linecap="square" clip-path="url(#ct2)"/>
<path d="M110.0,1010.5 L120.1,999.4 L128.6,982.5 L133.5,975.8 L142.0,964.9 L146.8,960.5 L157.4,945.7 L173.2,936.0 L185.1,932.0 L204.8,910.0 L224.6,889.4 L230.0,883.8 L244.0,877.5 L258.1,863.5 L272.1,847.9 L289.3,835.4 L308.0,819.8 L322.0,799.6 L333.0,790.2 L348.5,776.2 L364.1,762.1 L379.7,746.5 L396.9,731.0 L414.7,718.1 L429.5,704.9 L447.1,691.6 L463.3,678.4 L479.5,665.1 L494.3,650.4 L510.5,634.2 L526.7,616.5 L541.4,598.8 L551.7,590.0 L560.0,582.0" fill="none" stroke="#00F8BC" stroke-width="4.1" stroke-linejoin="round" stroke-linecap="square" clip-path="url(#cb0)"/>
<path d="M110.0,1011.3 L120.1,1000.2 L128.6,983.3 L133.5,976.6 L142.0,965.7 L146.8,961.3 L157.4,946.7 L173.2,937.0 L185.1,933.0 L204.8,911.0 L224.6,890.5 L230.0,885.0 L244.0,878.7 L258.1,864.7 L272.1,849.0 L289.3,836.5 L308.0,821.0 L322.0,801.0 L333.0,791.8 L348.5,778.0 L364.1,764.0 L379.7,749.0 L400.0,735.8 L429.5,712.2 L458.9,691.6 L488.4,671.0 L517.8,646.0 L547.3,618.0 L578.2,595.2" fill="none" stroke="#00BEF8" stroke-width="4.1" stroke-linejoin="round" stroke-linecap="square" clip-path="url(#cb0)"/>
<path d="M110.8,1012.1 L120.9,1001.0 L129.4,984.1 L134.3,977.4 L142.8,966.5 L147.6,962.1 L158.2,947.3 L174.0,937.6 L185.9,933.6 L205.6,911.6 L225.4,891.0 L230.8,885.4 L244.8,879.1 L258.9,865.1 L272.9,849.5 L290.1,837.0 L308.8,821.4 L322.8,801.2 L333.8,791.8 L349.3,777.8 L364.9,763.7 L380.5,748.1 L397.7,732.6 L415.5,719.7 L430.3,706.5 L447.9,693.2 L464.1,680.0 L480.3,666.7 L495.1,652.0 L511.3,635.8 L527.5,618.1 L542.2,600.4 L552.5,591.6 L560.8,583.6" fill="none" stroke="#00BEF8" stroke-width="4.1" stroke-linejoin="round" stroke-dasharray="15.2 6.6" stroke-linecap="butt" clip-path="url(#cb0)"/>
<path d="M110.0,1011.7 L120.1,1000.6 L128.6,983.7 L133.5,977.0 L142.0,966.1 L146.8,961.7 L157.4,948.7 L173.2,938.8 L185.1,934.8 L204.8,913.1 L224.6,896.3 L230.0,890.0 L244.0,885.3 L258.1,871.3 L273.7,858.8 L292.4,849.5 L309.6,837.0 L323.6,824.5 L337.6,812.0 L354.8,801.9 L378.2,787.1 L401.6,773.0 L420.6,760.0 L458.9,737.3 L503.1,715.2 L547.3,691.6 L597.3,666.6" fill="none" stroke="#1000F8" stroke-width="4.1" stroke-linejoin="round" stroke-linecap="square" clip-path="url(#cb0)"/>
<path d="M110.0,1011.1 L120.1,1000.0 L128.6,983.1 L133.5,976.4 L142.0,965.5 L146.8,961.1 L157.4,947.5 L173.2,937.5 L185.1,933.5 L204.8,911.5 L224.6,890.5 L230.0,884.8 L244.0,878.5 L258.1,864.5 L272.1,849.0 L289.3,836.5 L308.0,821.0 L322.0,800.8 L333.0,791.4 L348.5,777.5 L364.1,763.5 L379.7,748.5 L400.0,732.1 L429.5,710.8 L451.5,694.6 L470.7,682.8 L488.4,669.5 L506.0,657.7 L525.2,640.1 L547.3,619.5 L562.0,601.8 L573.8,590.0 L580.0,584.0" fill="none" stroke="#1000F8" stroke-width="4.1" stroke-linejoin="round" stroke-dasharray="15.2 6.6" stroke-linecap="butt" clip-path="url(#cb0)"/>
<path d="M110.0,1021.0 L123.8,1007.9 L132.3,994.6 L140.8,986.7 L157.8,972.1 L168.0,967.9 L171.2,966.0 L186.1,961.5 L198.9,951.6 L226.6,933.8 L242.4,927.9 L270.0,913.1 L289.8,906.2 L300.2,900.5 L323.6,890.0 L354.8,879.1 L373.5,873.6 L393.8,863.5 L420.0,850.0 L433.7,845.3 L487.5,817.1 L541.2,791.6 L595.0,766.0 L648.7,743.2 L691.0,724.2" fill="none" stroke="#6A00F8" stroke-width="4.1" stroke-linejoin="round" stroke-linecap="square" clip-path="url(#cb0)"/>
<path d="M110.0,1013.5 L111.6,1012.2 L122.6,998.8 L130.5,984.3 L144.4,967.9 L152.9,960.0 L159.4,952.6 L169.3,947.7 L185.1,942.7 L204.8,923.0 L226.6,905.2 L236.2,897.8 L253.4,885.3 L269.0,871.3 L292.4,861.9 L308.0,851.0 L326.7,835.4 L342.3,823.0 L362.6,807.4 L378.2,796.4 L393.8,782.4 L420.6,760.0 L441.2,744.6 L458.9,729.9 L478.1,713.7 L495.7,701.9 L517.8,691.6 L547.3,678.4 L576.7,663.6 L600.0,653.0 L621.9,641.1 L648.7,619.6 L681.0,590.0 L690.0,582.0" fill="none" stroke="#6A00F8" stroke-width="4.1" stroke-linejoin="round" stroke-dasharray="15.2 6.6" stroke-linecap="butt" clip-path="url(#cb0)"/>
<path d="M110.0,1031.2 L143.6,1031.2 L157.4,1030.6 L171.2,1020.8 L187.0,1011.9 L199.9,1006.3 L212.7,1009.5 L226.6,1016.4 L242.4,1005.9 L256.2,1002.0 L271.0,998.0 L290.8,1001.0 L307.5,997.6 L319.4,995.1 L333.2,996.1 L360.9,991.1 L376.7,987.2 L400.0,981.8 L461.5,968.0 L542.9,950.0 L629.3,933.8 L655.3,930.2 L689.5,930.2" fill="none" stroke="#000000" stroke-width="4.1" stroke-linejoin="round" stroke-linecap="square" clip-path="url(#cb0)"/>
<path d="M849.5,961.0 L851.0,957.0 L864.8,910.0 L876.6,880.0 L886.7,856.4 L899.3,841.3 L919.4,818.7 L937.0,797.3 L957.1,784.8 L967.1,768.4 L984.7,752.1 L992.3,728.2 L999.8,723.2 L1017.4,705.6 L1037.5,693.0 L1075.2,672.9 L1100.3,657.9 L1130.0,639.7 L1156.9,619.6 L1189.1,590.0 L1200.0,580.0" fill="none" stroke="#00F8BC" stroke-width="4.1" stroke-linejoin="round" stroke-linecap="square" clip-path="url(#cb1)"/>
<path d="M849.5,962.0 L851.0,958.0 L864.8,912.0 L874.7,886.0 L886.5,858.0 L899.3,842.0 L919.4,822.0 L934.4,806.1 L957.1,793.6 L984.7,763.4 L994.8,740.8 L1002.3,738.3 L1030.0,713.1 L1062.6,698.1 L1100.3,680.5 L1139.0,660.4 L1156.9,650.5 L1183.7,633.0 L1225.4,610.2" fill="none" stroke="#00BEF8" stroke-width="4.1" stroke-linejoin="round" stroke-linecap="square" clip-path="url(#cb1)"/>
<path d="M849.5,961.5 L851.0,957.5 L864.8,911.0 L876.6,881.5 L886.7,858.4 L899.3,843.3 L919.4,821.0 L937.0,800.0 L957.1,787.5 L967.1,771.0 L984.7,755.0 L992.3,731.0 L999.8,726.0 L1017.4,708.6 L1037.5,696.0 L1075.2,677.0 L1100.3,663.0 L1130.0,647.8 L1160.0,630.0 L1197.2,594.0 L1205.0,586.0" fill="none" stroke="#00BEF8" stroke-width="4.1" stroke-linejoin="round" stroke-dasharray="15.2 6.6" stroke-linecap="butt" clip-path="url(#cb1)"/>
<path d="M849.5,966.0 L851.0,962.5 L860.9,934.8 L874.7,907.2 L888.5,885.4 L911.8,866.4 L934.4,850.1 L957.1,841.3 L967.1,831.3 L987.2,813.7 L997.3,804.9 L1004.8,798.6 L1032.5,774.7 L1065.1,758.4 L1100.3,745.8 L1139.0,730.7 L1183.7,716.3 L1224.0,698.8 L1250.9,685.4 L1285.8,673.8" fill="none" stroke="#1000F8" stroke-width="4.1" stroke-linejoin="round" stroke-linecap="square" clip-path="url(#cb1)"/>
<path d="M849.5,962.0 L851.0,958.5 L864.8,913.1 L874.7,887.4 L881.7,875.0 L891.7,856.4 L911.8,833.8 L931.9,817.4 L957.1,808.6 L967.1,791.0 L987.2,776.0 L997.3,758.4 L1009.8,750.8 L1019.9,733.3 L1037.5,720.7 L1067.6,698.1 L1100.3,685.5 L1139.0,670.4 L1156.9,665.2 L1183.7,651.8 L1210.6,635.7 L1237.5,616.9 L1272.4,590.0 L1280.0,584.0" fill="none" stroke="#1000F8" stroke-width="4.1" stroke-linejoin="round" stroke-dasharray="15.2 6.6" stroke-linecap="butt" clip-path="url(#cb1)"/>
<path d="M851.0,1013.8 L854.9,1017.8 L860.9,1011.9 L870.7,994.1 L878.6,982.2 L890.5,970.4 L912.2,961.5 L932.0,948.7 L959.6,938.8 L971.5,926.9 L979.4,917.0 L987.3,912.1 L991.2,905.2 L999.1,899.3 L1007.0,892.4 L1018.9,882.5 L1037.5,867.7 L1075.2,852.6 L1139.0,827.5 L1210.6,802.3 L1291.2,768.7 L1400.0,729.7" fill="none" stroke="#6A00F8" stroke-width="4.1" stroke-linejoin="round" stroke-linecap="square" clip-path="url(#cb1)"/>
<path d="M849.5,962.0 L851.0,966.4 L854.9,978.3 L860.9,978.3 L866.8,968.4 L878.6,944.7 L894.4,924.9 L914.2,915.1 L932.0,901.2 L941.8,898.3 L955.7,899.3 L963.6,889.4 L973.5,879.5 L979.4,869.6 L987.3,870.6 L991.2,857.8 L1005.1,840.0 L1024.9,812.4 L1050.0,796.1 L1087.8,774.7 L1139.0,750.8 L1183.7,729.7 L1224.0,708.2 L1250.9,689.4 L1277.8,667.9 L1304.6,647.8 L1344.9,624.9 L1390.6,592.7 L1400.0,586.0" fill="none" stroke="#6A00F8" stroke-width="4.1" stroke-linejoin="round" stroke-dasharray="15.2 6.6" stroke-linecap="butt" clip-path="url(#cb1)"/>
<path d="M849.5,991.1 L858.9,991.1 L864.8,995.1 L870.7,988.2 L878.6,981.2 L892.5,970.4 L906.3,960.5 L914.2,951.6 L922.1,946.7 L934.0,943.1 L945.8,943.7 L953.7,934.8 L959.6,931.9 L963.6,932.5 L978.4,954.6 L987.3,941.7 L990.2,947.7 L996.2,943.7 L1002.1,947.3 L1007.0,932.8 L1016.9,923.0 L1023.8,924.0 L1035.7,916.1 L1068.3,908.2 L1084.1,906.8 L1130.0,899.0 L1183.7,886.9 L1264.3,873.5 L1293.9,866.2 L1312.7,864.1 L1347.6,864.1 L1359.7,860.0 L1400.0,860.0" fill="none" stroke="#000000" stroke-width="4.1" stroke-linejoin="round" stroke-linecap="square" clip-path="url(#cb1)"/>
<path d="M1589.0,925.0 L1608.8,929.0 L1638.4,930.0 L1668.0,928.0 L1689.7,937.0 L1707.5,948.0 L1723.3,950.6 L1745.1,962.5 L1756.9,956.6 L1778.6,932.8 L1798.4,924.9 L1814.2,913.1 L1832.0,895.3 L1840.0,868.0 L1849.1,848.0 L1860.0,842.5 L1873.4,839.8 L1884.2,834.4 L1894.9,823.7 L1908.3,810.3 L1916.4,788.8 L1923.1,751.2 L1932.5,729.7 L1940.6,708.2 L1951.3,690.7 L1967.4,684.0 L1978.2,676.0 L1983.6,661.2 L1994.3,654.5 L2010.4,635.7 L2026.5,616.9 L2048.0,590.0 L2055.0,581.0" fill="none" stroke="#00F8BC" stroke-width="4.1" stroke-linejoin="round" stroke-linecap="square" clip-path="url(#cb2)"/>
<path d="M1589.0,926.0 L1608.8,930.0 L1638.4,931.0 L1668.0,929.0 L1689.7,938.0 L1707.5,949.0 L1723.3,952.0 L1745.1,964.0 L1756.9,958.0 L1778.6,934.0 L1798.4,926.0 L1814.2,914.0 L1832.0,896.5 L1840.0,870.0 L1849.1,850.1 L1860.0,847.9 L1886.9,839.8 L1905.7,818.3 L1916.4,794.1 L1921.8,767.3 L1935.2,740.4 L1948.6,718.9 L1959.4,714.9 L1975.5,705.5 L1986.2,694.8 L1999.7,686.7 L2021.2,670.6 L2048.0,646.4 L2072.2,627.6" fill="none" stroke="#00BEF8" stroke-width="4.1" stroke-linejoin="round" stroke-linecap="square" clip-path="url(#cb2)"/>
<path d="M1589.0,925.5 L1608.8,929.5 L1638.4,930.5 L1668.0,928.5 L1689.7,937.5 L1707.5,948.5 L1723.3,951.0 L1745.1,963.0 L1756.9,957.0 L1778.6,933.5 L1798.4,925.5 L1814.2,913.8 L1832.0,896.0 L1840.0,869.5 L1849.1,849.5 L1860.0,844.5 L1873.4,842.0 L1884.2,836.5 L1894.9,826.0 L1908.3,812.5 L1916.4,791.0 L1923.1,754.0 L1932.5,732.5 L1940.6,711.0 L1951.3,693.5 L1967.4,686.5 L1978.2,678.5 L1983.6,664.0 L1994.3,657.5 L2010.4,639.0 L2026.5,620.5 L2053.4,590.0 L2060.0,582.0" fill="none" stroke="#00BEF8" stroke-width="4.1" stroke-linejoin="round" stroke-dasharray="15.2 6.6" stroke-linecap="butt" clip-path="url(#cb2)"/>
<path d="M1589.0,931.9 L1608.8,935.8 L1638.4,936.8 L1668.0,936.8 L1689.7,944.7 L1705.6,954.6 L1723.3,957.5 L1743.1,969.4 L1756.9,963.5 L1770.7,948.7 L1786.5,940.8 L1810.3,926.9 L1822.1,922.0 L1834.0,913.1 L1847.8,883.5 L1861.6,878.5 L1873.8,878.5 L1884.7,876.6 L1890.6,879.5 L1895.6,872.6 L1906.4,867.7 L1915.3,855.8 L1923.2,840.0 L1935.2,821.0 L1954.0,788.8 L1978.2,775.3 L2002.4,759.2 L2048.0,732.4 L2111.1,693.4" fill="none" stroke="#1000F8" stroke-width="4.1" stroke-linejoin="round" stroke-linecap="square" clip-path="url(#cb2)"/>
<path d="M1589.0,926.5 L1608.8,930.5 L1638.4,931.5 L1668.0,929.5 L1689.7,938.5 L1707.5,949.5 L1723.3,952.5 L1745.1,965.0 L1756.9,959.0 L1778.6,935.0 L1798.4,927.0 L1814.2,916.0 L1832.0,899.0 L1840.3,876.5 L1852.9,857.7 L1860.0,855.9 L1876.1,850.5 L1889.5,846.5 L1900.3,834.4 L1913.7,804.9 L1924.5,775.3 L1940.6,735.0 L1951.3,708.2 L1956.7,705.5 L1972.8,697.4 L1983.6,684.0 L1999.7,676.0 L2031.9,657.2 L2064.1,624.9 L2096.4,590.0 L2103.0,582.0" fill="none" stroke="#1000F8" stroke-width="4.1" stroke-linejoin="round" stroke-dasharray="15.2 6.6" stroke-linecap="butt" clip-path="url(#cb2)"/>
<path d="M1589.0,973.3 L1608.8,977.3 L1638.4,981.2 L1664.1,985.2 L1687.8,995.1 L1707.5,1013.8 L1723.3,1025.7 L1747.0,1041.5 L1766.8,1031.6 L1782.6,1022.7 L1794.5,1018.8 L1806.3,1011.9 L1826.1,1013.8 L1837.9,992.1 L1845.8,976.3 L1857.7,969.4 L1860.0,970.4 L1875.8,977.3 L1880.7,977.3 L1885.7,982.3 L1895.6,976.3 L1907.4,969.4 L1917.3,954.6 L1927.2,934.8 L1939.0,911.1 L1954.8,890.4 L1970.6,880.5 L1984.5,874.6 L2002.3,859.8 L2018.1,849.9 L2037.8,840.0 L2048.0,831.7 L2101.7,799.5 L2170.0,758.5" fill="none" stroke="#6A00F8" stroke-width="4.1" stroke-linejoin="round" stroke-linecap="square" clip-path="url(#cb2)"/>
<path d="M1589.0,924.9 L1608.8,929.9 L1648.3,936.8 L1668.0,939.8 L1687.8,952.6 L1707.5,984.2 L1723.3,998.0 L1747.0,1021.7 L1766.8,1009.9 L1782.6,1001.0 L1794.5,999.0 L1806.3,990.1 L1826.1,984.2 L1835.9,970.4 L1845.8,942.7 L1855.7,931.9 L1865.6,936.8 L1874.8,941.8 L1883.7,937.8 L1885.7,948.7 L1895.6,940.8 L1907.4,930.9 L1913.3,919.0 L1919.3,897.3 L1925.2,869.6 L1927.2,858.6 L1936.1,830.0 L1940.6,818.3 L1951.3,794.1 L1964.8,802.2 L1978.2,783.4 L1986.2,764.6 L2007.7,751.2 L2048.0,724.3 L2088.3,678.6 L2128.6,635.7 L2168.9,590.0 L2175.0,583.0" fill="none" stroke="#6A00F8" stroke-width="4.1" stroke-linejoin="round" stroke-dasharray="15.2 6.6" stroke-linecap="butt" clip-path="url(#cb2)"/>
<path d="M1589.0,949.6 L1634.4,949.6 L1648.3,953.6 L1664.1,958.5 L1687.8,955.6 L1695.7,960.5 L1707.5,973.3 L1721.4,975.3 L1731.2,946.7 L1740.1,897.3 L1742.3,880.0 L1745.1,840.0 L1749.1,791.1 L1754.9,840.0 L1761.2,880.0 L1769.8,930.9 L1779.6,949.6 L1789.5,946.7 L1795.4,933.8 L1800.4,932.8 L1812.2,949.6 L1822.1,960.5 L1835.9,977.3 L1847.8,971.4 L1856.7,963.5 L1865.6,936.8 L1873.8,917.1 L1881.7,911.1 L1891.6,936.8 L1899.5,942.7 L1909.4,964.5 L1921.3,983.3 L1929.2,986.2 L1933.1,985.2 L1941.0,975.3 L1948.9,956.6 L1962.7,936.8 L1970.6,932.9 L1978.6,924.0 L1983.5,939.8 L1994.4,930.9 L2002.3,922.0 L2012.1,914.1 L2024.0,918.0 L2057.6,908.2 L2083.3,900.9 L2093.2,899.7 L2112.9,893.0 L2120.8,889.0 L2132.7,889.4 L2147.5,883.9 L2170.0,883.9" fill="none" stroke="#000000" stroke-width="4.1" stroke-linejoin="round" stroke-linecap="square" clip-path="url(#cb2)"/>
<line x1="121.3" y1="44.7" x2="149.8" y2="44.7" stroke="#00F8BC" stroke-width="4.1" stroke-linecap="square"/>
<text x="161.10" y="45.00" font-size="32.5" font-style="italic">L</text>
<text x="179.10" y="50.00" font-size="23.5" font-style="italic">ν</text>
<text x="203.10" y="47.20" font-size="32.5" textLength="24.0" lengthAdjust="spacingAndGlyphs">=</text>
<text x="238.10" y="45.00" font-size="32.5">0</text>
<text x="259.90" y="45.00" font-size="32.5" textLength="45.5" lengthAdjust="spacingAndGlyphs">erg</text>
<text x="311.30" y="45.00" font-size="32.5" textLength="12.5" lengthAdjust="spacingAndGlyphs">s</text>
<text x="326.50" y="32.80" font-size="25.9" textLength="29.5" lengthAdjust="spacingAndGlyphs">−1</text>
<line x1="121.3" y1="89.0" x2="149.8" y2="89.0" stroke="#00BEF8" stroke-width="4.1" stroke-linecap="square"/>
<text x="161.10" y="89.30" font-size="32.5" font-style="italic">L</text>
<text x="179.10" y="94.30" font-size="23.5" font-style="italic">ν</text>
<text x="203.10" y="91.50" font-size="32.5" textLength="24.0" lengthAdjust="spacingAndGlyphs">=</text>
<text x="239.60" y="89.30" font-size="32.5" textLength="30.0" lengthAdjust="spacingAndGlyphs">10</text>
<text x="270.10" y="78.50" font-size="25.9" textLength="23.5" lengthAdjust="spacingAndGlyphs">51</text>
<text x="301.30" y="89.30" font-size="32.5" textLength="45.5" lengthAdjust="spacingAndGlyphs">erg</text>
<text x="352.70" y="89.30" font-size="32.5" textLength="12.5" lengthAdjust="spacingAndGlyphs">s</text>
<text x="367.90" y="77.10" font-size="25.9" textLength="29.5" lengthAdjust="spacingAndGlyphs">−1</text>
<line x1="121.3" y1="134.0" x2="149.8" y2="134.0" stroke="#1000F8" stroke-width="4.1" stroke-linecap="square"/>
<text x="161.10" y="134.00" font-size="32.5" font-style="italic">L</text>
<text x="179.10" y="139.00" font-size="23.5" font-style="italic">ν</text>
<text x="203.10" y="136.20" font-size="32.5" textLength="24.0" lengthAdjust="spacingAndGlyphs">=</text>
<text x="239.60" y="134.00" font-size="32.5" textLength="30.0" lengthAdjust="spacingAndGlyphs">10</text>
<text x="270.10" y="123.20" font-size="25.9" textLength="23.5" lengthAdjust="spacingAndGlyphs">52</text>
<text x="301.30" y="134.00" font-size="32.5" textLength="45.5" lengthAdjust="spacingAndGlyphs">erg</text>
<text x="352.70" y="134.00" font-size="32.5" textLength="12.5" lengthAdjust="spacingAndGlyphs">s</text>
<text x="367.90" y="121.80" font-size="25.9" textLength="29.5" lengthAdjust="spacingAndGlyphs">−1</text>
<line x1="410.3" y1="44.5" x2="438.5" y2="44.5" stroke="#6A00F8" stroke-width="4.1" stroke-linecap="square"/>
<text x="449.40" y="44.90" font-size="32.5" font-style="italic">L</text>
<text x="467.40" y="49.90" font-size="23.5" font-style="italic">ν</text>
<text x="491.40" y="47.10" font-size="32.5" textLength="24.0" lengthAdjust="spacingAndGlyphs">=</text>
<text x="527.90" y="44.90" font-size="32.5" textLength="30.0" lengthAdjust="spacingAndGlyphs">10</text>
<text x="558.40" y="34.10" font-size="25.9" textLength="23.5" lengthAdjust="spacingAndGlyphs">53</text>
<text x="589.60" y="44.90" font-size="32.5" textLength="45.5" lengthAdjust="spacingAndGlyphs">erg</text>
<text x="641.00" y="44.90" font-size="32.5" textLength="12.5" lengthAdjust="spacingAndGlyphs">s</text>
<text x="656.20" y="32.70" font-size="25.9" textLength="29.5" lengthAdjust="spacingAndGlyphs">−1</text>
<line x1="410.3" y1="83.6" x2="438.5" y2="83.6" stroke="#000" stroke-width="4.1" stroke-linecap="square"/>
<text x="449.40" y="83.60" font-size="32.5" font-style="italic">L</text>
<text x="467.40" y="88.60" font-size="23.5" font-style="italic">ν</text>
<text x="487.00" y="83.60" font-size="32.5" textLength="68.5" lengthAdjust="spacingAndGlyphs">from</text>
<text x="564.60" y="83.60" font-size="32.5" textLength="80.5" lengthAdjust="spacingAndGlyphs">tracer</text>
<line x1="410.3" y1="126.8" x2="438.5" y2="126.8" stroke="#6A00F8" stroke-width="4.1" stroke-dasharray="15.2 6.6" stroke-linecap="butt"/>
<text x="451.00" y="125.70" font-size="32.5" font-style="italic" textLength="21.5" lengthAdjust="spacingAndGlyphs">Y</text>
<text x="468.50" y="133.00" font-size="23.5" font-style="italic" textLength="31.5" lengthAdjust="spacingAndGlyphs">e,β</text>
<line x1="132.9" y1="625.5" x2="161.7" y2="625.5" stroke="#00F8BC" stroke-width="4.1" stroke-linecap="square"/>
<text x="172.83" y="626.40" font-size="28.4" font-style="italic">L</text>
<text x="188.55" y="630.77" font-size="20.5" font-style="italic">ν</text>
<text x="209.52" y="628.32" font-size="28.4" textLength="21.0" lengthAdjust="spacingAndGlyphs">=</text>
<text x="240.09" y="626.40" font-size="28.4">0</text>
<text x="259.14" y="626.40" font-size="28.4" textLength="39.7" lengthAdjust="spacingAndGlyphs">erg</text>
<text x="304.04" y="626.40" font-size="28.4" textLength="10.9" lengthAdjust="spacingAndGlyphs">s</text>
<text x="317.32" y="615.74" font-size="22.6" textLength="25.8" lengthAdjust="spacingAndGlyphs">−1</text>
<line x1="132.9" y1="665.5" x2="161.7" y2="665.5" stroke="#00BEF8" stroke-width="4.1" stroke-linecap="square"/>
<text x="172.83" y="666.40" font-size="28.4" font-style="italic">L</text>
<text x="188.55" y="670.77" font-size="20.5" font-style="italic">ν</text>
<text x="209.52" y="668.32" font-size="28.4" textLength="21.0" lengthAdjust="spacingAndGlyphs">=</text>
<text x="241.40" y="666.40" font-size="28.4" textLength="26.2" lengthAdjust="spacingAndGlyphs">10</text>
<text x="268.05" y="656.97" font-size="22.6" textLength="20.5" lengthAdjust="spacingAndGlyphs">51</text>
<text x="295.31" y="666.40" font-size="28.4" textLength="39.7" lengthAdjust="spacingAndGlyphs">erg</text>
<text x="340.21" y="666.40" font-size="28.4" textLength="10.9" lengthAdjust="spacingAndGlyphs">s</text>
<text x="353.49" y="655.74" font-size="22.6" textLength="25.8" lengthAdjust="spacingAndGlyphs">−1</text>
<line x1="132.9" y1="705.5" x2="161.7" y2="705.5" stroke="#1000F8" stroke-width="4.1" stroke-linecap="square"/>
<text x="172.83" y="706.40" font-size="28.4" font-style="italic">L</text>
<text x="188.55" y="710.77" font-size="20.5" font-style="italic">ν</text>
<text x="209.52" y="708.32" font-size="28.4" textLength="21.0" lengthAdjust="spacingAndGlyphs">=</text>
<text x="241.40" y="706.40" font-size="28.4" textLength="26.2" lengthAdjust="spacingAndGlyphs">10</text>
<text x="268.05" y="696.97" font-size="22.6" textLength="20.5" lengthAdjust="spacingAndGlyphs">52</text>
<text x="295.31" y="706.40" font-size="28.4" textLength="39.7" lengthAdjust="spacingAndGlyphs">erg</text>
<text x="340.21" y="706.40" font-size="28.4" textLength="10.9" lengthAdjust="spacingAndGlyphs">s</text>
<text x="353.49" y="695.74" font-size="22.6" textLength="25.8" lengthAdjust="spacingAndGlyphs">−1</text>
<line x1="132.9" y1="745.5" x2="161.7" y2="745.5" stroke="#6A00F8" stroke-width="4.1" stroke-linecap="square"/>
<text x="172.83" y="746.40" font-size="28.4" font-style="italic">L</text>
<text x="188.55" y="750.77" font-size="20.5" font-style="italic">ν</text>
<text x="209.52" y="748.32" font-size="28.4" textLength="21.0" lengthAdjust="spacingAndGlyphs">=</text>
<text x="241.40" y="746.40" font-size="28.4" textLength="26.2" lengthAdjust="spacingAndGlyphs">10</text>
<text x="268.05" y="736.97" font-size="22.6" textLength="20.5" lengthAdjust="spacingAndGlyphs">53</text>
<text x="295.31" y="746.40" font-size="28.4" textLength="39.7" lengthAdjust="spacingAndGlyphs">erg</text>
<text x="340.21" y="746.40" font-size="28.4" textLength="10.9" lengthAdjust="spacingAndGlyphs">s</text>
<text x="353.49" y="735.74" font-size="22.6" textLength="25.8" lengthAdjust="spacingAndGlyphs">−1</text>
<line x1="132.9" y1="780.6" x2="161.7" y2="780.6" stroke="#000" stroke-width="4.1" stroke-linecap="square"/>
<text x="172.70" y="781.00" font-size="28.4" font-style="italic">τ</text>
<text x="185.50" y="787.00" font-size="21.5" font-style="italic">d</text>
<text x="207.00" y="783.20" font-size="28.4" textLength="20.0" lengthAdjust="spacingAndGlyphs">=</text>
<text x="237.80" y="781.00" font-size="28.4" font-style="italic">ρ</text>
<text x="253.00" y="782.50" font-size="33.0" textLength="10.0" lengthAdjust="spacingAndGlyphs">/</text>
<text x="270.50" y="781.00" font-size="28.4" font-style="italic">ρ</text>
<text x="274.50" y="781.00" font-size="28.4">˙</text>
<text x="308.50" y="556.00" font-size="40.0" font-style="italic" textLength="13.0" lengthAdjust="spacingAndGlyphs">t</text>
<text x="331.00" y="559.00" font-size="38.0" textLength="28.5" lengthAdjust="spacingAndGlyphs">−</text>
<text x="369.30" y="556.00" font-size="40.0" font-style="italic" textLength="13.0" lengthAdjust="spacingAndGlyphs">t</text>
<text x="382.50" y="562.00" font-size="28.5" textLength="57.0" lengthAdjust="spacingAndGlyphs">map</text>
<text x="452.30" y="556.00" font-size="40.0" textLength="38.5" lengthAdjust="spacingAndGlyphs">[s]</text>
<text x="308.50" y="1140.00" font-size="40.0" font-style="italic" textLength="13.0" lengthAdjust="spacingAndGlyphs">t</text>
<text x="331.00" y="1143.00" font-size="38.0" textLength="28.5" lengthAdjust="spacingAndGlyphs">−</text>
<text x="369.30" y="1140.00" font-size="40.0" font-style="italic" textLength="13.0" lengthAdjust="spacingAndGlyphs">t</text>
<text x="382.50" y="1146.00" font-size="28.5" textLength="57.0" lengthAdjust="spacingAndGlyphs">map</text>
<text x="452.30" y="1140.00" font-size="40.0" textLength="38.5" lengthAdjust="spacingAndGlyphs">[s]</text>
<text x="1048.00" y="556.00" font-size="40.0" font-style="italic" textLength="13.0" lengthAdjust="spacingAndGlyphs">t</text>
<text x="1070.50" y="559.00" font-size="38.0" textLength="28.5" lengthAdjust="spacingAndGlyphs">−</text>
<text x="1108.80" y="556.00" font-size="40.0" font-style="italic" textLength="13.0" lengthAdjust="spacingAndGlyphs">t</text>
<text x="1122.00" y="562.00" font-size="28.5" textLength="57.0" lengthAdjust="spacingAndGlyphs">map</text>
<text x="1191.80" y="556.00" font-size="40.0" textLength="38.5" lengthAdjust="spacingAndGlyphs">[s]</text>
<text x="1048.00" y="1140.00" font-size="40.0" font-style="italic" textLength="13.0" lengthAdjust="spacingAndGlyphs">t</text>
<text x="1070.50" y="1143.00" font-size="38.0" textLength="28.5" lengthAdjust="spacingAndGlyphs">−</text>
<text x="1108.80" y="1140.00" font-size="40.0" font-style="italic" textLength="13.0" lengthAdjust="spacingAndGlyphs">t</text>
<text x="1122.00" y="1146.00" font-size="28.5" textLength="57.0" lengthAdjust="spacingAndGlyphs">map</text>
<text x="1191.80" y="1140.00" font-size="40.0" textLength="38.5" lengthAdjust="spacingAndGlyphs">[s]</text>
<text x="1787.50" y="556.00" font-size="40.0" font-style="italic" textLength="13.0" lengthAdjust="spacingAndGlyphs">t</text>
<text x="1810.00" y="559.00" font-size="38.0" textLength="28.5" lengthAdjust="spacingAndGlyphs">−</text>
<text x="1848.30" y="556.00" font-size="40.0" font-style="italic" textLength="13.0" lengthAdjust="spacingAndGlyphs">t</text>
<text x="1861.50" y="562.00" font-size="28.5" textLength="57.0" lengthAdjust="spacingAndGlyphs">map</text>
<text x="1931.30" y="556.00" font-size="40.0" textLength="38.5" lengthAdjust="spacingAndGlyphs">[s]</text>
<text x="1787.50" y="1140.00" font-size="40.0" font-style="italic" textLength="13.0" lengthAdjust="spacingAndGlyphs">t</text>
<text x="1810.00" y="1143.00" font-size="38.0" textLength="28.5" lengthAdjust="spacingAndGlyphs">−</text>
<text x="1848.30" y="1140.00" font-size="40.0" font-style="italic" textLength="13.0" lengthAdjust="spacingAndGlyphs">t</text>
<text x="1861.50" y="1146.00" font-size="28.5" textLength="57.0" lengthAdjust="spacingAndGlyphs">map</text>
<text x="1931.30" y="1140.00" font-size="40.0" textLength="38.5" lengthAdjust="spacingAndGlyphs">[s]</text>
<g transform="translate(30.40,240) rotate(-90)"><text x="-17.0" y="0" font-size="40" font-style="italic" textLength="25.5" lengthAdjust="spacingAndGlyphs" style="stroke:none">Y</text><text x="6.5" y="6.3" font-size="28" font-style="italic">e</text></g>
<g transform="translate(28.60,829) rotate(-90)"><text x="-67.0" y="0" font-size="39" font-style="italic" textLength="20.5" lengthAdjust="spacingAndGlyphs" style="stroke:none">τ</text><text x="-48.0" y="7.8" font-size="33" textLength="66" lengthAdjust="spacingAndGlyphs">weak</text><text x="31.0" y="0" font-size="40" textLength="36.5" lengthAdjust="spacingAndGlyphs">[s]</text></g>
<g transform="translate(769.90,240) rotate(-90)"><text x="-17.0" y="0" font-size="40" font-style="italic" textLength="25.5" lengthAdjust="spacingAndGlyphs" style="stroke:none">Y</text><text x="6.5" y="6.3" font-size="28" font-style="italic">e</text></g>
<g transform="translate(768.10,829) rotate(-90)"><text x="-67.0" y="0" font-size="39" font-style="italic" textLength="20.5" lengthAdjust="spacingAndGlyphs" style="stroke:none">τ</text><text x="-48.0" y="7.8" font-size="33" textLength="66" lengthAdjust="spacingAndGlyphs">weak</text><text x="31.0" y="0" font-size="40" textLength="36.5" lengthAdjust="spacingAndGlyphs">[s]</text></g>
<g transform="translate(1509.40,240) rotate(-90)"><text x="-17.0" y="0" font-size="40" font-style="italic" textLength="25.5" lengthAdjust="spacingAndGlyphs" style="stroke:none">Y</text><text x="6.5" y="6.3" font-size="28" font-style="italic">e</text></g>
<g transform="translate(1507.60,829) rotate(-90)"><text x="-67.0" y="0" font-size="39" font-style="italic" textLength="20.5" lengthAdjust="spacingAndGlyphs" style="stroke:none">τ</text><text x="-48.0" y="7.8" font-size="33" textLength="66" lengthAdjust="spacingAndGlyphs">weak</text><text x="31.0" y="0" font-size="40" textLength="36.5" lengthAdjust="spacingAndGlyphs">[s]</text></g>
</svg></body></html>
